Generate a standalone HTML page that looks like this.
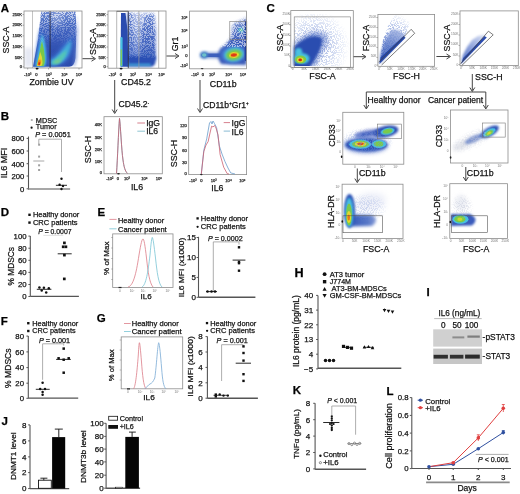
<!DOCTYPE html>
<html><head><meta charset="utf-8"><style>
html,body{margin:0;padding:0;background:#fff;}
svg{display:block;font-family:"Liberation Sans",sans-serif;}
text{stroke:#222;stroke-width:0.25px;paint-order:stroke;}
</style></head><body>
<svg width="520" height="494" viewBox="0 0 520 494">
<defs>
<filter id="b1" filterUnits="userSpaceOnUse" x="0" y="0" width="520" height="494"><feGaussianBlur stdDeviation="1"/></filter>
<filter id="b15" filterUnits="userSpaceOnUse" x="0" y="0" width="520" height="494"><feGaussianBlur stdDeviation="1.5"/></filter>
<filter id="b2" filterUnits="userSpaceOnUse" x="0" y="0" width="520" height="494"><feGaussianBlur stdDeviation="2"/></filter>
<filter id="b3" filterUnits="userSpaceOnUse" x="0" y="0" width="520" height="494"><feGaussianBlur stdDeviation="3"/></filter>
<filter id="b05" filterUnits="userSpaceOnUse" x="0" y="0" width="520" height="494"><feGaussianBlur stdDeviation="0.5"/></filter>
<filter id="speck" filterUnits="userSpaceOnUse" x="0" y="0" width="520" height="494"><feTurbulence type="fractalNoise" baseFrequency="1.1" numOctaves="1" seed="7" result="n"/><feColorMatrix in="n" type="matrix" values="0 0 0 0 1  0 0 0 0 1  0 0 0 0 1  0 0 0 -14 7.3" result="w"/><feComposite in="w" in2="SourceAlpha" operator="in"/><feGaussianBlur stdDeviation="0.35"/></filter>
<filter id="speckb" filterUnits="userSpaceOnUse" x="0" y="0" width="520" height="494"><feTurbulence type="fractalNoise" baseFrequency="1.1" numOctaves="1" seed="11" result="n"/><feColorMatrix in="n" type="matrix" values="0 0 0 0 0.2  0 0 0 0 0.3  0 0 0 0 0.68  0 0 0 -14 7.3" result="w"/><feComposite in="w" in2="SourceAlpha" operator="in"/><feGaussianBlur stdDeviation="0.35"/></filter>
<filter id="speckg" filterUnits="userSpaceOnUse" x="0" y="0" width="520" height="494"><feTurbulence type="fractalNoise" baseFrequency="1.1" numOctaves="1" seed="5" result="n"/><feColorMatrix in="n" type="matrix" values="0 0 0 0 0.55  0 0 0 0 0.58  0 0 0 0 0.7  0 0 0 -14 6.9" result="w"/><feComposite in="w" in2="SourceAlpha" operator="in"/><feGaussianBlur stdDeviation="0.35"/></filter>
<radialGradient id="rg"><stop offset="0" stop-color="#000" stop-opacity="1"/><stop offset="0.6" stop-color="#000" stop-opacity="0.6"/><stop offset="1" stop-color="#000" stop-opacity="0"/></radialGradient>
<filter id="b07" filterUnits="userSpaceOnUse" x="0" y="0" width="520" height="494"><feGaussianBlur stdDeviation="0.7"/></filter>
</defs>
<rect width="520" height="494" fill="#fff"/>
<linearGradient id="gA1" x1="0" y1="12" x2="0" y2="67" gradientUnits="userSpaceOnUse">
<stop offset="0" stop-color="#6a86d0"/><stop offset="0.2" stop-color="#4a6cc4"/><stop offset="0.42" stop-color="#3a5cbc"/><stop offset="0.7" stop-color="#3050b0"/><stop offset="1" stop-color="#2c4cac"/></linearGradient>
<linearGradient id="gA2" x1="0" y1="12" x2="0" y2="67" gradientUnits="userSpaceOnUse">
<stop offset="0" stop-color="#c4cfee"/><stop offset="0.4" stop-color="#8ea4dc"/><stop offset="0.75" stop-color="#4a6cc4"/><stop offset="1" stop-color="#2848aa"/></linearGradient>
<clipPath id="cp1"><rect x="24" y="11" width="58" height="57"/></clipPath>
<g clip-path="url(#cp1)">
<rect x="24.5" y="48" width="8" height="19" fill="#c8cde4" stroke="none" stroke-width="1" opacity="0.5" filter="url(#b2)"/>
<path d="M41,11.5 L75.5,11.5 L76.5,30 L75.5,58 Q74.5,66.8 69,66.8 L33,66.8 L35,56 L38,40 Z" fill="url(#gA1)" opacity="1" filter="url(#b07)"/>
<ellipse cx="57" cy="18" rx="6" ry="9" fill="#a8b8e4" opacity="0.5" filter="url(#b3)"/>
<path d="M39.5,28 Q44,35 46.5,50 Q47.5,62 45,66.5 L34,66.5 Q36,50 39.5,28 Z" fill="#3f70d0" opacity="0.9" filter="url(#b15)"/>
<path d="M76,14 L78,30 L77,58 L75,66 L73,66 L75.5,40 Z" fill="#6a86d0" opacity="0.7" filter="url(#b15)"/>
<path d="M49,66.5 Q62,67 69,58 Q74,48 73,36 Q66,40 61,48 Q55,57 49,59 Z" fill="#3d6fd0" opacity="0.95" filter="url(#b2)"/>
<path d="M51,65 Q62,65 67.5,56 Q71.5,48 71,40 Q66,45 61.5,51 Q56,58 51,60 Z" fill="#44b4dc" opacity="0.9" filter="url(#b15)"/>
<path d="M52,64.5 Q60,64.5 64,58 Q66.5,54 66.5,50 Q62,53 58,57 Q55,60 52,61 Z" fill="#56c8b4" opacity="0.95" filter="url(#b1)"/>
<ellipse cx="57.5" cy="61.5" rx="3.2" ry="1.8" fill="#7ccc88" opacity="0.8" transform="rotate(-20 57.5 61.5)" filter="url(#b1)"/>
<path d="M42.5,34 Q45.5,44 46,56 Q46.3,64 44.5,66.3 L35.5,66.3 Q37.5,56 39.5,46 Q41,38 42.5,34 Z" fill="#46c0e2" opacity="1" filter="url(#b1)"/>
<path d="M42,41 Q44.5,50 44.8,58 Q45,64 43.5,66 L36.5,66 Q38.5,58 40,50 Q41,44 42,41 Z" fill="#78c848" opacity="1" filter="url(#b07)"/>
<path d="M40.2,52 Q42.5,57 42.5,62 Q42.5,65.5 41,66 L37,66 Q38.3,60 39.2,56 Z" fill="#e0d838" opacity="1" filter="url(#b07)"/>
<ellipse cx="39.4" cy="62.5" rx="1.5" ry="3" fill="#ee8a1c" opacity="1" transform="rotate(10 39.4 62.5)" filter="url(#b07)"/>
<ellipse cx="39.2" cy="63.8" rx="0.9" ry="1.8" fill="#d8280e" opacity="1" transform="rotate(10 39.2 63.8)" filter="url(#b05)"/>
<linearGradient id="spA1" x1="0" y1="11" x2="0" y2="45" gradientUnits="userSpaceOnUse"><stop offset="0" stop-color="#000" stop-opacity="0.7"/><stop offset="0.5" stop-color="#000" stop-opacity="0.3"/><stop offset="1" stop-color="#000" stop-opacity="0"/></linearGradient>
<rect x="36" y="11" width="42" height="45" fill="url(#spA1)" filter="url(#speck)"/>
</g>
<line x1="32.5" y1="11" x2="32.5" y2="68" stroke="#aaa" stroke-width="0.7" />
<line x1="50.1" y1="11" x2="50.1" y2="68" stroke="#223" stroke-width="0.8" />
<clipPath id="cp2"><rect x="108" y="11" width="58" height="57.2"/></clipPath>
<g clip-path="url(#cp2)">
<linearGradient id="gA2r" x1="0" y1="13" x2="0" y2="60" gradientUnits="userSpaceOnUse">
<stop offset="0" stop-color="#6a86d0"/><stop offset="0.4" stop-color="#4c6cc4"/><stop offset="1" stop-color="#3458b8"/></linearGradient>
<linearGradient id="gA2m" x1="0" y1="13" x2="0" y2="60" gradientUnits="userSpaceOnUse">
<stop offset="0" stop-color="#b4c2ea"/><stop offset="0.5" stop-color="#8aa0dc"/><stop offset="1" stop-color="#5070c8"/></linearGradient>
<path d="M128,13 L154,13 L155,60 L128,60 Z" fill="url(#gA2m)" opacity="1" filter="url(#b1)"/>
<path d="M127.5,13 L132,13 L134,40 L134,60 L127.5,60 Z" fill="#4a6ac4" opacity="0.85" filter="url(#b15)"/>
<path d="M140,60 L141.5,30 L145,15 L154,14 L155.5,30 L155.5,60 Z" fill="url(#gA2r)" opacity="1" filter="url(#b15)"/>
<path d="M128,56 L155.5,56 L155.5,62 Q155,66.8 150,66.8 L128,66.8 Z" fill="#2c50b4" opacity="1" filter="url(#b1)"/>
<path d="M121,13 L125.5,13 L127.5,30 L128.3,66.8 L120.5,66.8 Z" fill="#2a4cb0" opacity="1" filter="url(#b05)"/>
<path d="M129,64.8 L150,64.8" fill="none" stroke="#46b8e0" stroke-width="2" stroke-linecap="round" opacity="0.9" filter="url(#b1)"/>
<path d="M121.5,38 L121.5,65.5" fill="none" stroke="#46c0e2" stroke-width="2.2" stroke-linecap="round" opacity="1" filter="url(#b07)"/>
<path d="M121.3,50 L121.3,65" fill="none" stroke="#80cc60" stroke-width="1.4" stroke-linecap="round" opacity="1" filter="url(#b05)"/>
<linearGradient id="spA2" x1="0" y1="13" x2="0" y2="58" gradientUnits="userSpaceOnUse"><stop offset="0" stop-color="#000" stop-opacity="0.7"/><stop offset="0.6" stop-color="#000" stop-opacity="0.45"/><stop offset="1" stop-color="#000" stop-opacity="0.1"/></linearGradient>
<rect x="128.5" y="12" width="28" height="46" fill="url(#spA2)" filter="url(#speck)"/>
</g>
<line x1="116.7" y1="11" x2="116.7" y2="68.2" stroke="#999" stroke-width="0.7" />
<line x1="128.3" y1="11" x2="128.3" y2="68.2" stroke="#223" stroke-width="0.8" />
<line x1="138.9" y1="11" x2="138.9" y2="68.2" stroke="#999" stroke-width="0.7" />
<line x1="158.7" y1="11" x2="158.7" y2="68.2" stroke="#999" stroke-width="0.7" />
<line x1="116.7" y1="11.3" x2="128.3" y2="11.3" stroke="#333" stroke-width="0.8" />
<clipPath id="cp3"><rect x="189.6" y="11.1" width="56.900000000000006" height="57.699999999999996"/></clipPath>
<g clip-path="url(#cp3)">
<path d="M203,55.2 L226,55.4" fill="none" stroke="#6c88cc" stroke-width="6" stroke-linecap="round" opacity="0.8" filter="url(#b15)"/>
<path d="M203,55.2 L227,55.4" fill="none" stroke="#3c5ebc" stroke-width="3.6" stroke-linecap="round" opacity="1" filter="url(#b07)"/>
<ellipse cx="204.2" cy="55" rx="3.8" ry="3.4" fill="#4a88c8" opacity="1" filter="url(#b1)"/>
<ellipse cx="204.2" cy="55" rx="2.2" ry="1.8" fill="#6cc0c8" opacity="1" filter="url(#b07)"/>
<linearGradient id="gA3g" x1="0" y1="18" x2="0" y2="45" gradientUnits="userSpaceOnUse">
<stop offset="0" stop-color="#b0bee6"/><stop offset="0.35" stop-color="#5a78c8"/><stop offset="1" stop-color="#3656b6"/></linearGradient>
<path d="M233,24 L246.5,17 L246.5,65 L221,64 Q216,57 220,49 Q227,44 231,38 Z" fill="url(#gA3g)" opacity="1" filter="url(#b15)"/>
<ellipse cx="233.5" cy="54" rx="13" ry="9.5" fill="#4a78d0" opacity="0.9" transform="rotate(-8 233.5 54)" filter="url(#b15)"/>
<ellipse cx="234" cy="54.5" rx="10" ry="7" fill="#46bce0" opacity="1" transform="rotate(-8 234 54.5)" filter="url(#b1)"/>
<ellipse cx="234" cy="54.8" rx="8" ry="5.2" fill="#7cc848" opacity="1" transform="rotate(-8 234 54.8)" filter="url(#b1)"/>
<ellipse cx="234" cy="55" rx="5" ry="3" fill="#e6da2c" opacity="1" transform="rotate(-8 234 55)" filter="url(#b07)"/>
<ellipse cx="233.8" cy="55" rx="3.2" ry="1.7" fill="#e03818" opacity="1" transform="rotate(-8 233.8 55)" filter="url(#b05)"/>
<ellipse cx="241" cy="30" rx="3" ry="2.6" fill="#4eaed0" opacity="1" filter="url(#b1)"/>
<ellipse cx="241" cy="30" rx="1.6" ry="1.3" fill="#70c8a0" opacity="1" filter="url(#b07)"/>
<path d="M245.6,20 L245.6,60" fill="none" stroke="#22409c" stroke-width="2" stroke-linecap="round" opacity="1" filter="url(#b07)"/>
<rect x="216" y="17" width="31" height="30" fill="#000" opacity="0.55" filter="url(#speck)"/>
</g>
<rect x="229.8" y="21.5" width="17" height="18.2" fill="none" stroke="#777" stroke-width="0.6" />
<clipPath id="cp4"><rect x="291.8" y="11.3" width="60.69999999999999" height="54.8"/></clipPath>
<g clip-path="url(#cp4)">
<radialGradient id="spC1" cx="314" cy="46" r="36" gradientUnits="userSpaceOnUse"><stop offset="0" stop-color="#000" stop-opacity="0.9"/><stop offset="0.45" stop-color="#000" stop-opacity="0.45"/><stop offset="1" stop-color="#000" stop-opacity="0"/></radialGradient>
<rect x="294" y="14" width="58" height="52" fill="url(#spC1)" filter="url(#speckb)"/>
<path d="M294,66 L294,44 Q300,37 311,32 Q321,30 327,35 Q329,42 321,54 L315,66 Z" fill="#5674c8" opacity="0.6" filter="url(#b2)"/>
<path d="M294,66 L294,47 Q300,41 309,37 Q318,35 322,39 Q322,47 316,57 L311,66 Z" fill="#2c4eb0" opacity="1" filter="url(#b1)"/>
<ellipse cx="298.6" cy="52.3" rx="3.6" ry="4.2" fill="#48c0e0" opacity="1" filter="url(#b1)"/>
<ellipse cx="301.5" cy="58.5" rx="8" ry="5.6" fill="#48c4dc" opacity="1" filter="url(#b1)"/>
<ellipse cx="300.6" cy="59.5" rx="5.6" ry="4" fill="#80cc48" opacity="1" filter="url(#b07)"/>
<ellipse cx="300.3" cy="59.9" rx="3.2" ry="2.3" fill="#e6da2c" opacity="1" filter="url(#b05)"/>
<ellipse cx="300.2" cy="59.9" rx="1.8" ry="1.3" fill="#d8280e" opacity="1" filter="url(#b05)"/>
<path d="M295,65 L309,65.5" fill="none" stroke="#2a48a8" stroke-width="1.6" stroke-linecap="round" opacity="1" filter="url(#b07)"/>
</g>
<clipPath id="cp5"><rect x="378" y="14.1" width="58.19999999999999" height="50.9"/></clipPath>
<g clip-path="url(#cp5)">
<linearGradient id="gC2" x1="380" y1="64" x2="395" y2="20" gradientUnits="userSpaceOnUse">
<stop offset="0" stop-color="#3254b4"/><stop offset="0.45" stop-color="#5a78c8"/><stop offset="1" stop-color="#c4cfee"/></linearGradient>
<radialGradient id="spC2" cx="386" cy="50" r="38" gradientUnits="userSpaceOnUse"><stop offset="0" stop-color="#000" stop-opacity="1"/><stop offset="0.6" stop-color="#000" stop-opacity="0.6"/><stop offset="1" stop-color="#000" stop-opacity="0"/></radialGradient>
<path d="M380,62 L383,40 L388,26 L395,15 L404,15 L410,22 L406,37 Z" fill="url(#spC2)" filter="url(#speckb)"/>
<path d="M379.5,64 L380.5,54 L383.5,43 L388,34 L393,29 L399,30 L405,36.5 Z" fill="url(#gC2)" opacity="0.85" filter="url(#b1)"/>
<path d="M379.3,64 L380.5,57.5 L403.5,36 L405.5,37.8 Z" fill="#2646a8" opacity="1" filter="url(#b07)"/>
</g>
<path d="M378.6,62.3 L411.2,29.3 L414.7,33.3 L381.6,65" fill="none" stroke="#444" stroke-width="0.7" />
<clipPath id="cp6"><rect x="460.2" y="11.2" width="58.599999999999966" height="53.89999999999999"/></clipPath>
<g clip-path="url(#cp6)">
<linearGradient id="gC3" x1="461" y1="64" x2="478" y2="34" gradientUnits="userSpaceOnUse">
<stop offset="0" stop-color="#3a5cb8"/><stop offset="0.5" stop-color="#7890d4"/><stop offset="1" stop-color="#c8d2ee"/></linearGradient>
<path d="M461,64 L463,55 L467,47 L472,40 L478,36 L486,34.5 Z" fill="url(#gC3)" opacity="0.9" filter="url(#b1)"/>
<path d="M461,64 L463.2,58 L484.5,36 L486.8,37.6 Z" fill="#2c4cae" opacity="1" filter="url(#b07)"/>
</g>
<path d="M460.5,63.8 L488.4,31.2 L493.2,34.8 L462,65.3" fill="none" stroke="#444" stroke-width="0.7" />
<clipPath id="cp7"><rect x="342.8" y="112.5" width="60.19999999999999" height="51.0"/></clipPath>
<g clip-path="url(#cp7)">
<ellipse cx="370" cy="134" rx="14" ry="4.5" fill="#8890d4" opacity="0.75" transform="rotate(-8 370 134)" filter="url(#b15)"/>
<ellipse cx="366" cy="145" rx="22" ry="8" fill="#6a84d0" opacity="0.8" filter="url(#b2)"/>
<ellipse cx="366.3" cy="144.8" rx="21" ry="6.6" fill="#2e54b8" opacity="1" filter="url(#b1)"/>
<ellipse cx="360.2" cy="144.2" rx="11" ry="4.6" fill="#46c0e2" opacity="1" filter="url(#b07)"/>
<ellipse cx="379" cy="144" rx="7.2" ry="4" fill="#46c0e2" opacity="1" filter="url(#b07)"/>
<ellipse cx="360.5" cy="144.1" rx="8.6" ry="3.5" fill="#7acb48" opacity="1" filter="url(#b07)"/>
<ellipse cx="378.7" cy="143.9" rx="4.6" ry="2.7" fill="#7acb48" opacity="1" filter="url(#b05)"/>
<ellipse cx="360.5" cy="144" rx="5.6" ry="2.3" fill="#e6da2c" opacity="1" filter="url(#b05)"/>
<ellipse cx="360.5" cy="143.8" rx="3.3" ry="1.4" fill="#e04818" opacity="1" filter="url(#b05)"/>
<path d="M357,135.5 Q368,133.5 380,131.5" fill="none" stroke="#5a74c8" stroke-width="4.5" stroke-linecap="round" opacity="0.85" filter="url(#b15)"/>
<path d="M362,135 Q370,133.3 380,131.6" fill="none" stroke="#3a5abc" stroke-width="2.4" stroke-linecap="round" opacity="0.9" filter="url(#b1)"/>
<ellipse cx="386" cy="131.5" rx="12.5" ry="5.8" fill="#3052b4" opacity="1" transform="rotate(-12 386 131.5)" filter="url(#b1)"/>
<ellipse cx="387.6" cy="131.3" rx="7" ry="3.4" fill="#46c0e2" opacity="1" transform="rotate(-12 387.6 131.3)" filter="url(#b07)"/>
<ellipse cx="387.6" cy="131.3" rx="4.8" ry="2.3" fill="#7acb48" opacity="1" transform="rotate(-12 387.6 131.3)" filter="url(#b05)"/>
<ellipse cx="367" cy="141" rx="27" ry="14" fill="url(#rg)" opacity="0.55" filter="url(#speckb)"/>
</g>
<clipPath id="cp8"><rect x="450.6" y="110" width="57.099999999999966" height="52.599999999999994"/></clipPath>
<g clip-path="url(#cp8)">
<ellipse cx="462" cy="145" rx="10" ry="3.5" fill="#c8ccd8" opacity="0.6" transform="rotate(-25 462 145)" filter="url(#b2)"/>
<ellipse cx="474" cy="139" rx="10" ry="3.2" fill="#6a84c8" opacity="0.85" transform="rotate(-25 474 139)" filter="url(#b1)"/>
<ellipse cx="489.5" cy="131.8" rx="10.5" ry="4.4" fill="#2e54b8" opacity="1" transform="rotate(-30 489.5 131.8)" filter="url(#b1)"/>
<ellipse cx="489.4" cy="132.4" rx="6.8" ry="3.1" fill="#46c0e2" opacity="1" transform="rotate(-30 489.4 132.4)" filter="url(#b07)"/>
<ellipse cx="489.2" cy="133" rx="4.3" ry="2.1" fill="#7acb48" opacity="1" transform="rotate(-30 489.2 133)" filter="url(#b05)"/>
<ellipse cx="489.2" cy="133.2" rx="2.2" ry="1.1" fill="#d8d830" opacity="1" transform="rotate(-30 489.2 133.2)" filter="url(#b05)"/>
<ellipse cx="472" cy="140" rx="24" ry="10" transform="rotate(-25 472 140)" fill="url(#rg)" opacity="0.6" filter="url(#speckg)"/>
</g>
<clipPath id="cp9"><rect x="342.5" y="184.3" width="60.30000000000001" height="53.5"/></clipPath>
<g clip-path="url(#cp9)">
<linearGradient id="gHt" x1="350" y1="0" x2="380" y2="0" gradientUnits="userSpaceOnUse">
<stop offset="0" stop-color="#3258b8"/><stop offset="0.6" stop-color="#5878c8"/><stop offset="1" stop-color="#a0b0e0"/></linearGradient>
<ellipse cx="370" cy="202" rx="16" ry="9" fill="#dadff2" opacity="0.5" transform="rotate(-10 370 202)" filter="url(#b3)"/>
<path d="M351,214.5 L372,215 Q380,220 372,226 L351,226.5 Z" fill="url(#gHt)" opacity="1" filter="url(#b15)"/>
<ellipse cx="349.5" cy="211" rx="5.6" ry="17" fill="#2e54b8" opacity="1" filter="url(#b1)"/>
<ellipse cx="349.2" cy="212.5" rx="4" ry="14.5" fill="#46c0e2" opacity="1" filter="url(#b1)"/>
<ellipse cx="349" cy="214.5" rx="2.9" ry="11" fill="#7acb48" opacity="1" filter="url(#b07)"/>
<ellipse cx="348.9" cy="217" rx="2.1" ry="6" fill="#e6da2c" opacity="1" filter="url(#b07)"/>
<ellipse cx="348.7" cy="217.5" rx="1.3" ry="3" fill="#e87818" opacity="1" filter="url(#b05)"/>
<ellipse cx="366" cy="208" rx="22" ry="15" fill="url(#rg)" opacity="0.3" filter="url(#speckb)"/>
</g>
<clipPath id="cp10"><rect x="450.1" y="183.8" width="57.5" height="53.599999999999994"/></clipPath>
<g clip-path="url(#cp10)">
<ellipse cx="461" cy="203" rx="6" ry="8" fill="#d8dce8" opacity="0.5" filter="url(#b2)"/>
<path d="M451,214 L470,214 Q480,219 472,225.5 L451,226 Z" fill="#3a5cbc" opacity="1" filter="url(#b1)"/>
<ellipse cx="460.5" cy="219.3" rx="8" ry="4.5" fill="#46c0e2" opacity="1" filter="url(#b07)"/>
<ellipse cx="459.9" cy="219.2" rx="5.5" ry="3.4" fill="#7acb48" opacity="1" filter="url(#b05)"/>
<ellipse cx="459.9" cy="219.2" rx="2.6" ry="1.8" fill="#c8d830" opacity="1" filter="url(#b05)"/>
<ellipse cx="462" cy="207" rx="12" ry="13" fill="url(#rg)" opacity="0.5" filter="url(#speckg)"/>
</g>
<text x="0.8" y="12" text-anchor="start" fill="#000" style="font-size:11.5px;font-weight:bold;" >A</text>
<g id="A1dens"></g>
<rect x="24" y="11" width="58" height="57" fill="none" stroke="#8c8c8c" stroke-width="0.8" />
<text x="22" y="15.799999999999999" text-anchor="end" fill="#333" style="font-size:4.1px;" >250K</text>
<line x1="22.5" y1="14.6" x2="24" y2="14.6" stroke="#777" stroke-width="0.6" />
<text x="22" y="26.4" text-anchor="end" fill="#333" style="font-size:4.1px;" >200K</text>
<line x1="22.5" y1="25.2" x2="24" y2="25.2" stroke="#777" stroke-width="0.6" />
<text x="22" y="37.1" text-anchor="end" fill="#333" style="font-size:4.1px;" >150K</text>
<line x1="22.5" y1="35.9" x2="24" y2="35.9" stroke="#777" stroke-width="0.6" />
<text x="22" y="48.0" text-anchor="end" fill="#333" style="font-size:4.1px;" >100K</text>
<line x1="22.5" y1="46.8" x2="24" y2="46.8" stroke="#777" stroke-width="0.6" />
<text x="22" y="58.7" text-anchor="end" fill="#333" style="font-size:4.1px;" >50K</text>
<line x1="22.5" y1="57.5" x2="24" y2="57.5" stroke="#777" stroke-width="0.6" />
<text x="22" y="68.0" text-anchor="end" fill="#333" style="font-size:4.1px;" >0</text>
<line x1="22.5" y1="66.8" x2="24" y2="66.8" stroke="#777" stroke-width="0.6" />
<text x="27.7" y="75.5" text-anchor="middle" fill="#333" style="font-size:4.1px;" >-10³</text>
<line x1="27.7" y1="68" x2="27.7" y2="69.5" stroke="#777" stroke-width="0.6" />
<text x="36.4" y="75.5" text-anchor="middle" fill="#333" style="font-size:4.1px;" >0</text>
<line x1="36.4" y1="68" x2="36.4" y2="69.5" stroke="#777" stroke-width="0.6" />
<text x="48.6" y="75.5" text-anchor="middle" fill="#333" style="font-size:4.1px;" >10³</text>
<line x1="48.6" y1="68" x2="48.6" y2="69.5" stroke="#777" stroke-width="0.6" />
<text x="64.4" y="75.5" text-anchor="middle" fill="#333" style="font-size:4.1px;" >10⁴</text>
<line x1="64.4" y1="68" x2="64.4" y2="69.5" stroke="#777" stroke-width="0.6" />
<text x="79" y="75.5" text-anchor="middle" fill="#333" style="font-size:4.1px;" >10⁵</text>
<line x1="79" y1="68" x2="79" y2="69.5" stroke="#777" stroke-width="0.6" />
<text transform="translate(9.3,40) rotate(-90)" text-anchor="middle" fill="#111" style="font-size:8.8px;" >SSC-A</text>
<text x="51.5" y="85.2" text-anchor="middle" fill="#111" style="font-size:8.8px;" >Zombie UV</text>
<line x1="82.5" y1="58.7" x2="94.5" y2="58.7" stroke="#444" stroke-width="1" />
<path d="M91.5,56.2 L95.5,58.7 L91.5,61.2" fill="none" stroke="#444" stroke-width="1" />
<rect x="108" y="11" width="58" height="57.2" fill="none" stroke="#8c8c8c" stroke-width="0.8" />
<text x="105.8" y="15.799999999999999" text-anchor="end" fill="#333" style="font-size:4.1px;" >250K</text>
<line x1="106.5" y1="14.6" x2="108" y2="14.6" stroke="#777" stroke-width="0.6" />
<text x="105.8" y="26.2" text-anchor="end" fill="#333" style="font-size:4.1px;" >200K</text>
<line x1="106.5" y1="25.0" x2="108" y2="25.0" stroke="#777" stroke-width="0.6" />
<text x="105.8" y="36.6" text-anchor="end" fill="#333" style="font-size:4.1px;" >150K</text>
<line x1="106.5" y1="35.4" x2="108" y2="35.4" stroke="#777" stroke-width="0.6" />
<text x="105.8" y="48.2" text-anchor="end" fill="#333" style="font-size:4.1px;" >100K</text>
<line x1="106.5" y1="47.0" x2="108" y2="47.0" stroke="#777" stroke-width="0.6" />
<text x="105.8" y="58.800000000000004" text-anchor="end" fill="#333" style="font-size:4.1px;" >50K</text>
<line x1="106.5" y1="57.6" x2="108" y2="57.6" stroke="#777" stroke-width="0.6" />
<text x="105.8" y="67.8" text-anchor="end" fill="#333" style="font-size:4.1px;" >0</text>
<line x1="106.5" y1="66.6" x2="108" y2="66.6" stroke="#777" stroke-width="0.6" />
<text x="112.5" y="75.5" text-anchor="middle" fill="#333" style="font-size:4.1px;" >-10³</text>
<text x="121" y="75.5" text-anchor="middle" fill="#333" style="font-size:4.1px;" >0</text>
<text x="133" y="75.5" text-anchor="middle" fill="#333" style="font-size:4.1px;" >10³</text>
<text x="148.5" y="75.5" text-anchor="middle" fill="#333" style="font-size:4.1px;" >10⁴</text>
<text x="161.5" y="75.5" text-anchor="middle" fill="#333" style="font-size:4.1px;" >10⁵</text>
<text transform="translate(95.6,41.5) rotate(-90)" text-anchor="middle" fill="#111" style="font-size:8.8px;" >SSC-A</text>
<text x="136" y="85.2" text-anchor="middle" fill="#111" style="font-size:8.8px;" >CD45.2</text>
<line x1="166.5" y1="56" x2="178" y2="56" stroke="#444" stroke-width="1" />
<path d="M175,53.5 L179,56 L175,58.5" fill="none" stroke="#444" stroke-width="1" />
<rect x="189.6" y="11.1" width="56.900000000000006" height="57.699999999999996" fill="none" stroke="#8c8c8c" stroke-width="0.8" />
<text x="187.5" y="19.2" text-anchor="end" fill="#333" style="font-size:4.1px;" >10⁵</text>
<text x="187.5" y="32.2" text-anchor="end" fill="#333" style="font-size:4.1px;" >10⁴</text>
<text x="187.5" y="47.7" text-anchor="end" fill="#333" style="font-size:4.1px;" >10³</text>
<text x="187.5" y="57.2" text-anchor="end" fill="#333" style="font-size:4.1px;" >0</text>
<text x="187.5" y="66.7" text-anchor="end" fill="#333" style="font-size:4.1px;" >-10²</text>
<text x="195" y="75.5" text-anchor="middle" fill="#333" style="font-size:4.1px;" >-10²</text>
<text x="203" y="75.5" text-anchor="middle" fill="#333" style="font-size:4.1px;" >0</text>
<text x="212" y="75.5" text-anchor="middle" fill="#333" style="font-size:4.1px;" >10³</text>
<text x="228.5" y="75.5" text-anchor="middle" fill="#333" style="font-size:4.1px;" >10⁴</text>
<text x="243" y="75.5" text-anchor="middle" fill="#333" style="font-size:4.1px;" >10⁵</text>
<text transform="translate(178.3,44) rotate(-90)" text-anchor="middle" fill="#111" style="font-size:8.8px;" >Gr1</text>
<text x="223.2" y="87" text-anchor="middle" fill="#111" style="font-size:8.8px;" >CD11b</text>
<line x1="114.7" y1="80" x2="114.7" y2="112.5" stroke="#444" stroke-width="1" />
<path d="M112.2,109.5 L114.7,113.5 L117.2,109.5" fill="none" stroke="#444" stroke-width="1" />
<line x1="200" y1="80" x2="200" y2="111.5" stroke="#444" stroke-width="1" />
<path d="M197.5,108.5 L200,112.5 L202.5,108.5" fill="none" stroke="#444" stroke-width="1" />
<text x="118.5" y="107.3" text-anchor="start" fill="#111" style="font-size:8.6px;" >CD45.2<tspan dy="-3" font-size="4">-</tspan></text>
<text x="203" y="107.8" text-anchor="start" fill="#111" style="font-size:8.6px;" >CD11b<tspan dy="-3" font-size="4.5">+</tspan><tspan dy="3">Gr1</tspan><tspan dy="-3" font-size="4.5">+</tspan></text>
<text x="0.8" y="119.6" text-anchor="start" fill="#000" style="font-size:11.5px;font-weight:bold;" >B</text>
<circle cx="31.8" cy="120" r="1.1" fill="#aaa" stroke="none" stroke-width="1"/>
<text x="35.8" y="122.5" text-anchor="start" fill="#111" style="font-size:7.3px;" >MDSC</text>
<circle cx="31.6" cy="127.7" r="1.1" fill="#111" stroke="none" stroke-width="1"/>
<text x="35.8" y="129.4" text-anchor="start" fill="#111" style="font-size:7.3px;" >Tumor</text>
<text x="35.2" y="137.4" text-anchor="start" fill="#111" style="font-size:7.3px;" ><tspan font-style="italic">P</tspan> = 0.0051</text>
<line x1="28.5" y1="136.5" x2="28.5" y2="189.5" stroke="#555" stroke-width="1.1" />
<line x1="28" y1="189" x2="70.1" y2="189" stroke="#8a8a8a" stroke-width="1.6" />
<text x="24.3" y="141.20000000000002" text-anchor="end" fill="#111" style="font-size:7.7px;" >800</text>
<line x1="26.6" y1="138.4" x2="28.5" y2="138.4" stroke="#555" stroke-width="1" />
<text x="24.3" y="153.8" text-anchor="end" fill="#111" style="font-size:7.7px;" >600</text>
<line x1="26.6" y1="151" x2="28.5" y2="151" stroke="#555" stroke-width="1" />
<text x="24.3" y="166.5" text-anchor="end" fill="#111" style="font-size:7.7px;" >400</text>
<line x1="26.6" y1="163.7" x2="28.5" y2="163.7" stroke="#555" stroke-width="1" />
<text x="24.3" y="178.8" text-anchor="end" fill="#111" style="font-size:7.7px;" >200</text>
<line x1="26.6" y1="176" x2="28.5" y2="176" stroke="#555" stroke-width="1" />
<text x="24.3" y="191.60000000000002" text-anchor="end" fill="#111" style="font-size:7.7px;" >0</text>
<line x1="26.6" y1="188.8" x2="28.5" y2="188.8" stroke="#555" stroke-width="1" />
<text transform="translate(7.3,163) rotate(-90)" text-anchor="middle" fill="#111" style="font-size:9px;" >IL6 MFI</text>
<path d="M38.8,144 L38.8,139.2 L61.5,139.2 L61.5,172" fill="none" stroke="#999" stroke-width="0.8" />
<rect x="38.1" y="143.7" width="2" height="2" fill="#a0a0a0" stroke="none" stroke-width="1" />
<rect x="38.1" y="155.6" width="2" height="2" fill="#a0a0a0" stroke="none" stroke-width="1" />
<rect x="38.1" y="164.3" width="2" height="2" fill="#a0a0a0" stroke="none" stroke-width="1" />
<rect x="38.1" y="169" width="2" height="2" fill="#a0a0a0" stroke="none" stroke-width="1" />
<line x1="33.3" y1="161" x2="44.3" y2="161" stroke="#a8a8a8" stroke-width="1" />
<circle cx="61.5" cy="178.7" r="1.2" fill="#111" stroke="none" stroke-width="1"/>
<circle cx="59.6" cy="184.7" r="1.2" fill="#111" stroke="none" stroke-width="1"/>
<circle cx="63" cy="186" r="1.2" fill="#111" stroke="none" stroke-width="1"/>
<circle cx="61.5" cy="189" r="1.2" fill="#111" stroke="none" stroke-width="1"/>
<line x1="55.9" y1="185.3" x2="67" y2="185.3" stroke="#111" stroke-width="0.9" />
<rect x="104" y="116.7" width="58.30000000000001" height="57.10000000000001" fill="none" stroke="#8c8c8c" stroke-width="0.8" />
<text x="102" y="126.2" text-anchor="end" fill="#333" style="font-size:4.1px;" >40K</text>
<text x="102" y="138.7" text-anchor="end" fill="#333" style="font-size:4.1px;" >30K</text>
<text x="102" y="151.0" text-anchor="end" fill="#333" style="font-size:4.1px;" >20K</text>
<text x="102" y="163.2" text-anchor="end" fill="#333" style="font-size:4.1px;" >10K</text>
<text x="102" y="173.7" text-anchor="end" fill="#333" style="font-size:4.1px;" >0</text>
<text x="109.8" y="180" text-anchor="middle" fill="#333" style="font-size:4.1px;" >-10²</text>
<text x="118" y="180" text-anchor="middle" fill="#333" style="font-size:4.1px;" >0</text>
<text x="127" y="180" text-anchor="middle" fill="#333" style="font-size:4.1px;" >10³</text>
<text x="144.4" y="180" text-anchor="middle" fill="#333" style="font-size:4.1px;" >10⁴</text>
<text x="158.8" y="180" text-anchor="middle" fill="#333" style="font-size:4.1px;" >10⁵</text>
<text transform="translate(90.6,149.5) rotate(-90)" text-anchor="middle" fill="#111" style="font-size:8.8px;" >SSC-H</text>
<text x="137" y="190.2" text-anchor="middle" fill="#111" style="font-size:8.8px;" >IL6</text>
<path d="M116.5,173.5 C117.5,160 118.5,130 119.5,118.4 C120.5,125 121.5,150 123,160 C124,167 125,171 127.5,173.5" fill="none" stroke="#74b8c8" stroke-width="0.9" />
<path d="M116.5,173.5 C117.5,160 118.5,130 119.5,118.4 C120.5,125 121.5,150 123,160 C124,167 125,171 127.5,173.5" fill="none" stroke="#cc6070" stroke-width="0.8" />
<line x1="137.3" y1="123" x2="145" y2="123" stroke="#cc6070" stroke-width="0.8" />
<text x="146.2" y="125.6" text-anchor="start" fill="#111" style="font-size:8.6px;" >IgG</text>
<line x1="137.3" y1="131.2" x2="145" y2="131.2" stroke="#74b8c8" stroke-width="0.8" />
<text x="146.2" y="134.2" text-anchor="start" fill="#111" style="font-size:8.6px;" >IL6</text>
<rect x="188.7" y="116.4" width="57.900000000000006" height="58.19999999999999" fill="none" stroke="#8c8c8c" stroke-width="0.8" />
<text x="186.8" y="127.10000000000001" text-anchor="end" fill="#333" style="font-size:4.1px;" >120</text>
<text x="186.8" y="139.39999999999998" text-anchor="end" fill="#333" style="font-size:4.1px;" >90</text>
<text x="186.8" y="151.5" text-anchor="end" fill="#333" style="font-size:4.1px;" >60</text>
<text x="186.8" y="163.89999999999998" text-anchor="end" fill="#333" style="font-size:4.1px;" >30</text>
<text x="186.8" y="175.29999999999998" text-anchor="end" fill="#333" style="font-size:4.1px;" >0</text>
<text x="193" y="182" text-anchor="middle" fill="#333" style="font-size:4.1px;" >-10³</text>
<text x="201.5" y="182" text-anchor="middle" fill="#333" style="font-size:4.1px;" >0</text>
<text x="213.6" y="182" text-anchor="middle" fill="#333" style="font-size:4.1px;" >10³</text>
<text x="228.5" y="182" text-anchor="middle" fill="#333" style="font-size:4.1px;" >10⁴</text>
<text x="242.3" y="182" text-anchor="middle" fill="#333" style="font-size:4.1px;" >10⁵</text>
<text transform="translate(176.6,153.5) rotate(-90)" text-anchor="middle" fill="#111" style="font-size:8.8px;" >SSC-H</text>
<text x="217.4" y="190.8" text-anchor="middle" fill="#111" style="font-size:8.8px;" >IL6</text>
<path d="M201.3,174 L203.8,150.2 L206.7,138.9 L209.5,123 L210.9,121.5 L212,124 L213,121 L214.5,123.5 L216.6,127.6 L219.4,146 L222,154 L225,161.6 L228,168 L230.7,172.9 L235,174" fill="none" stroke="#6a9ccc" stroke-width="0.8" />
<path d="M201.3,174 L203.8,151.7 L206,145 L208.1,141.7 L210,133 L211.6,126.2 L213,127 L214.5,125.5 L216,128 L218,134.7 L220.1,154.5 L223.7,167.2 L227.2,173.6 L229,174" fill="none" stroke="#cc6070" stroke-width="0.8" />
<line x1="223.7" y1="122.6" x2="230" y2="122.6" stroke="#cc6070" stroke-width="0.8" />
<text x="231.6" y="126" text-anchor="start" fill="#111" style="font-size:8.6px;" >IgG</text>
<line x1="223.7" y1="131.1" x2="230" y2="131.1" stroke="#6aa8c8" stroke-width="0.8" />
<text x="231.6" y="134.6" text-anchor="start" fill="#111" style="font-size:8.6px;" >IL6</text>
<text x="266.4" y="11.6" text-anchor="start" fill="#000" style="font-size:11.5px;font-weight:bold;" >C</text>
<rect x="290.8" y="10.6" width="62.5" height="56.699999999999996" fill="none" stroke="#8c8c8c" stroke-width="0.8" />
<rect x="294.2" y="16.9" width="56.2" height="50.4" fill="none" stroke="#777" stroke-width="0.6" />
<line x1="289.3" y1="14" x2="290.8" y2="14" stroke="#777" stroke-width="0.5" />
<line x1="289.3" y1="24.7" x2="290.8" y2="24.7" stroke="#777" stroke-width="0.5" />
<line x1="289.3" y1="35.4" x2="290.8" y2="35.4" stroke="#777" stroke-width="0.5" />
<line x1="289.3" y1="46.1" x2="290.8" y2="46.1" stroke="#777" stroke-width="0.5" />
<line x1="289.3" y1="56.8" x2="290.8" y2="56.8" stroke="#777" stroke-width="0.5" />
<line x1="289.3" y1="66.5" x2="290.8" y2="66.5" stroke="#777" stroke-width="0.5" />
<line x1="292" y1="67.3" x2="292" y2="68.8" stroke="#777" stroke-width="0.5" />
<line x1="303" y1="67.3" x2="303" y2="68.8" stroke="#777" stroke-width="0.5" />
<line x1="314.5" y1="67.3" x2="314.5" y2="68.8" stroke="#777" stroke-width="0.5" />
<line x1="326" y1="67.3" x2="326" y2="68.8" stroke="#777" stroke-width="0.5" />
<line x1="337.5" y1="67.3" x2="337.5" y2="68.8" stroke="#777" stroke-width="0.5" />
<line x1="349" y1="67.3" x2="349" y2="68.8" stroke="#777" stroke-width="0.5" />
<text transform="translate(283.3,38) rotate(-90)" text-anchor="middle" fill="#111" style="font-size:8.8px;" >SSC-A</text>
<text x="322.5" y="79.2" text-anchor="middle" fill="#111" style="font-size:8.8px;" >FSC-A</text>
<line x1="353.5" y1="56.7" x2="365" y2="56.7" stroke="#444" stroke-width="1" />
<path d="M362,54.2 L366,56.7 L362,59.2" fill="none" stroke="#444" stroke-width="1" />
<rect x="377.9" y="14.4" width="56.700000000000045" height="51.9" fill="none" stroke="#8c8c8c" stroke-width="0.8" />
<line x1="376.4" y1="17.5" x2="377.9" y2="17.5" stroke="#777" stroke-width="0.5" />
<line x1="376.4" y1="27.5" x2="377.9" y2="27.5" stroke="#777" stroke-width="0.5" />
<line x1="376.4" y1="37.5" x2="377.9" y2="37.5" stroke="#777" stroke-width="0.5" />
<line x1="376.4" y1="47.5" x2="377.9" y2="47.5" stroke="#777" stroke-width="0.5" />
<line x1="376.4" y1="57.5" x2="377.9" y2="57.5" stroke="#777" stroke-width="0.5" />
<line x1="376.4" y1="65" x2="377.9" y2="65" stroke="#777" stroke-width="0.5" />
<line x1="380" y1="66.3" x2="380" y2="67.8" stroke="#777" stroke-width="0.5" />
<line x1="390" y1="66.3" x2="390" y2="67.8" stroke="#777" stroke-width="0.5" />
<line x1="401" y1="66.3" x2="401" y2="67.8" stroke="#777" stroke-width="0.5" />
<line x1="412" y1="66.3" x2="412" y2="67.8" stroke="#777" stroke-width="0.5" />
<line x1="423" y1="66.3" x2="423" y2="67.8" stroke="#777" stroke-width="0.5" />
<line x1="433" y1="66.3" x2="433" y2="67.8" stroke="#777" stroke-width="0.5" />
<text transform="translate(369.3,38) rotate(-90)" text-anchor="middle" fill="#111" style="font-size:8.8px;" >FSC-A</text>
<text x="406.5" y="79.2" text-anchor="middle" fill="#111" style="font-size:8.8px;" >FSC-H</text>
<line x1="436.4" y1="56.5" x2="449.5" y2="56.5" stroke="#444" stroke-width="1" />
<path d="M446.5,54.0 L450.5,56.5 L446.5,59.0" fill="none" stroke="#444" stroke-width="1" />
<rect x="460" y="10.9" width="58.299999999999955" height="54.699999999999996" fill="none" stroke="#8c8c8c" stroke-width="0.8" />
<line x1="458.5" y1="14" x2="460" y2="14" stroke="#777" stroke-width="0.5" />
<line x1="458.5" y1="24.5" x2="460" y2="24.5" stroke="#777" stroke-width="0.5" />
<line x1="458.5" y1="35" x2="460" y2="35" stroke="#777" stroke-width="0.5" />
<line x1="458.5" y1="45.5" x2="460" y2="45.5" stroke="#777" stroke-width="0.5" />
<line x1="458.5" y1="56" x2="460" y2="56" stroke="#777" stroke-width="0.5" />
<line x1="458.5" y1="64.5" x2="460" y2="64.5" stroke="#777" stroke-width="0.5" />
<line x1="462" y1="65.6" x2="462" y2="67.1" stroke="#777" stroke-width="0.5" />
<line x1="472" y1="65.6" x2="472" y2="67.1" stroke="#777" stroke-width="0.5" />
<line x1="483" y1="65.6" x2="483" y2="67.1" stroke="#777" stroke-width="0.5" />
<line x1="494" y1="65.6" x2="494" y2="67.1" stroke="#777" stroke-width="0.5" />
<line x1="505" y1="65.6" x2="505" y2="67.1" stroke="#777" stroke-width="0.5" />
<line x1="516" y1="65.6" x2="516" y2="67.1" stroke="#777" stroke-width="0.5" />
<text transform="translate(450.3,38) rotate(-90)" text-anchor="middle" fill="#111" style="font-size:8.8px;" >SSC-A</text>
<text x="488.8" y="80" text-anchor="middle" fill="#111" style="font-size:8.8px;" >SSC-H</text>
<line x1="472.3" y1="74" x2="472.3" y2="90.5" stroke="#444" stroke-width="1" />
<path d="M469.8,87.5 L472.3,91.5 L474.8,87.5" fill="none" stroke="#444" stroke-width="1" />
<line x1="366.3" y1="92" x2="485.8" y2="92" stroke="#444" stroke-width="1" />
<line x1="366.3" y1="92" x2="366.3" y2="108" stroke="#444" stroke-width="1" />
<path d="M363.8,105 L366.3,109 L368.8,105" fill="none" stroke="#444" stroke-width="1" />
<line x1="485.8" y1="92" x2="485.8" y2="108" stroke="#444" stroke-width="1" />
<path d="M483.3,105 L485.8,109 L488.3,105" fill="none" stroke="#444" stroke-width="1" />
<text x="367.6" y="103.2" text-anchor="start" fill="#111" style="font-size:8.5px;" >Healthy donor</text>
<text x="427.9" y="103.2" text-anchor="start" fill="#111" style="font-size:8.5px;" >Cancer patient</text>
<rect x="342.8" y="112.3" width="61.0" height="51.89999999999999" fill="none" stroke="#8c8c8c" stroke-width="0.8" />
<rect x="377.4" y="124.1" width="24" height="14.6" fill="none" stroke="#777" stroke-width="0.6" />
<text transform="translate(334.9,135.5) rotate(-90)" text-anchor="middle" fill="#111" style="font-size:8.8px;" >CD33</text>
<text x="372.3" y="176.2" text-anchor="middle" fill="#111" style="font-size:8.8px;" >CD11b</text>
<line x1="357.3" y1="168.5" x2="357.3" y2="181.6" stroke="#444" stroke-width="1" />
<path d="M354.8,178.6 L357.3,182.6 L359.8,178.6" fill="none" stroke="#444" stroke-width="1" />
<rect x="450.4" y="110" width="57.60000000000002" height="53" fill="none" stroke="#8c8c8c" stroke-width="0.8" />
<rect x="482.5" y="123" width="22.7" height="14.1" fill="none" stroke="#777" stroke-width="0.6" />
<text transform="translate(442,136) rotate(-90)" text-anchor="middle" fill="#111" style="font-size:8.8px;" >CD33</text>
<text x="480.2" y="176.2" text-anchor="middle" fill="#111" style="font-size:8.8px;" >CD11b</text>
<line x1="465.8" y1="167" x2="465.8" y2="180" stroke="#444" stroke-width="1" />
<path d="M463.3,177 L465.8,181 L468.3,177" fill="none" stroke="#444" stroke-width="1" />
<rect x="342.1" y="184.2" width="60.89999999999998" height="54.30000000000001" fill="none" stroke="#8c8c8c" stroke-width="0.8" />
<rect x="343" y="215.8" width="39.5" height="16.9" fill="none" stroke="#555" stroke-width="0.6" />
<text transform="translate(334.4,211.5) rotate(-90)" text-anchor="middle" fill="#111" style="font-size:8.8px;" >HLA-DR</text>
<text x="376.2" y="252.2" text-anchor="middle" fill="#111" style="font-size:8.8px;" >FSC-A</text>
<rect x="449.8" y="183.7" width="57.69999999999999" height="54.80000000000001" fill="none" stroke="#8c8c8c" stroke-width="0.8" />
<rect x="451.3" y="215.8" width="36" height="16.5" fill="none" stroke="#555" stroke-width="0.6" />
<text transform="translate(440.2,211.5) rotate(-90)" text-anchor="middle" fill="#111" style="font-size:8.8px;" >HLA-DR</text>
<text x="476.2" y="252.2" text-anchor="middle" fill="#111" style="font-size:8.8px;" >FSC-A</text>
<text x="0.8" y="216.4" text-anchor="start" fill="#000" style="font-size:11.5px;font-weight:bold;" >D</text>
<rect x="28.3" y="213.60000000000002" width="2.4" height="2.4" fill="#111" stroke="none" stroke-width="1" />
<text x="32.9" y="217.2" text-anchor="start" fill="#111" style="font-size:7.4px;" textLength="46.4" lengthAdjust="spacingAndGlyphs">Healthy donor</text>
<rect x="28.3" y="221.4" width="2.4" height="2.4" fill="#111" stroke="none" stroke-width="1" />
<text x="32.9" y="225.0" text-anchor="start" fill="#111" style="font-size:7.4px;" textLength="44.7" lengthAdjust="spacingAndGlyphs">CRC patients</text>
<text x="38.2" y="233.7" text-anchor="start" fill="#111" style="font-size:7.2px;" textLength="33.3" lengthAdjust="spacingAndGlyphs"><tspan font-style="italic">P</tspan> = 0.0007</text>
<line x1="43.3" y1="235.4" x2="63.3" y2="235.4" stroke="#d4d4d4" stroke-width="0.7" />
<line x1="30.3" y1="236.1" x2="30.3" y2="296.5" stroke="#555" stroke-width="1.1" />
<line x1="30.3" y1="296.3" x2="78.9" y2="296.3" stroke="#555" stroke-width="1.3" />
<text x="26.6" y="238.9" text-anchor="end" fill="#111" style="font-size:7.8px;" >100</text>
<line x1="28.4" y1="236.1" x2="30.3" y2="236.1" stroke="#555" stroke-width="1" />
<text x="26.6" y="251.0" text-anchor="end" fill="#111" style="font-size:7.8px;" >80</text>
<line x1="28.4" y1="248.2" x2="30.3" y2="248.2" stroke="#555" stroke-width="1" />
<text x="26.6" y="263.1" text-anchor="end" fill="#111" style="font-size:7.8px;" >60</text>
<line x1="28.4" y1="260.3" x2="30.3" y2="260.3" stroke="#555" stroke-width="1" />
<text x="26.6" y="275.2" text-anchor="end" fill="#111" style="font-size:7.8px;" >40</text>
<line x1="28.4" y1="272.4" x2="30.3" y2="272.4" stroke="#555" stroke-width="1" />
<text x="26.6" y="287.3" text-anchor="end" fill="#111" style="font-size:7.8px;" >20</text>
<line x1="28.4" y1="284.5" x2="30.3" y2="284.5" stroke="#555" stroke-width="1" />
<text x="26.6" y="299.3" text-anchor="end" fill="#111" style="font-size:7.8px;" >0</text>
<line x1="28.4" y1="296.5" x2="30.3" y2="296.5" stroke="#555" stroke-width="1" />
<text transform="translate(13.8,266.3) rotate(-90)" text-anchor="middle" fill="#111" style="font-size:8.4px;" textLength="38.4" lengthAdjust="spacingAndGlyphs">% MDSCs</text>
<circle cx="39.4" cy="287.5" r="1.25" fill="#111" stroke="none" stroke-width="1"/>
<circle cx="43.9" cy="287.8" r="1.25" fill="#111" stroke="none" stroke-width="1"/>
<circle cx="48.8" cy="288.2" r="1.25" fill="#111" stroke="none" stroke-width="1"/>
<circle cx="41.7" cy="290.6" r="1.25" fill="#111" stroke="none" stroke-width="1"/>
<circle cx="46.2" cy="292.4" r="1.25" fill="#111" stroke="none" stroke-width="1"/>
<line x1="36.8" y1="289.3" x2="51.4" y2="289.3" stroke="#111" stroke-width="0.9" />
<rect x="63.050000000000004" y="241.55" width="2.7" height="2.7" fill="#111" stroke="none" stroke-width="1" />
<rect x="61.85" y="245.45000000000002" width="2.7" height="2.7" fill="#111" stroke="none" stroke-width="1" />
<rect x="64.55000000000001" y="245.45000000000002" width="2.7" height="2.7" fill="#111" stroke="none" stroke-width="1" />
<rect x="63.050000000000004" y="253.75" width="2.7" height="2.7" fill="#111" stroke="none" stroke-width="1" />
<rect x="62.949999999999996" y="277.54999999999995" width="2.7" height="2.7" fill="#111" stroke="none" stroke-width="1" />
<line x1="57.7" y1="253.8" x2="71.7" y2="253.8" stroke="#111" stroke-width="0.9" />
<text x="97.6" y="216.0" text-anchor="start" fill="#000" style="font-size:11.5px;font-weight:bold;" >E</text>
<line x1="109.4" y1="219.4" x2="116.6" y2="219.4" stroke="#dc7c88" stroke-width="0.8" />
<text x="118" y="223.0" text-anchor="start" fill="#111" style="font-size:7.5px;" textLength="46.2" lengthAdjust="spacingAndGlyphs">Healthy donor</text>
<line x1="109.4" y1="228.8" x2="116.6" y2="228.8" stroke="#78c4d4" stroke-width="0.8" />
<text x="118" y="232.4" text-anchor="start" fill="#111" style="font-size:7.5px;" textLength="48.7" lengthAdjust="spacingAndGlyphs">Cancer patient</text>
<rect x="112.7" y="233.9" width="60.3" height="53.49999999999997" fill="none" stroke="#8c8c8c" stroke-width="0.8" />
<line x1="111.2" y1="237.5" x2="112.7" y2="237.5" stroke="#777" stroke-width="0.5" />
<line x1="111.2" y1="248" x2="112.7" y2="248" stroke="#777" stroke-width="0.5" />
<line x1="111.2" y1="258.5" x2="112.7" y2="258.5" stroke="#777" stroke-width="0.5" />
<line x1="111.2" y1="269" x2="112.7" y2="269" stroke="#777" stroke-width="0.5" />
<line x1="111.2" y1="279.5" x2="112.7" y2="279.5" stroke="#777" stroke-width="0.5" />
<text transform="translate(109.2,258.2) rotate(-90)" text-anchor="middle" fill="#111" style="font-size:7.6px;" textLength="33.5" lengthAdjust="spacingAndGlyphs">% of Max</text>
<text x="140.6" y="299.2" text-anchor="start" fill="#111" style="font-size:7.8px;" textLength="11.1" lengthAdjust="spacingAndGlyphs">IL6</text>
<path d="M128,287 C133,286 136,275 139,255 C141,243 142,239 143,238.9 C144,239 145,245 146.5,258 C148,272 149.5,283 153,287" fill="none" stroke="#dc7c88" stroke-width="0.8" />
<path d="M142,287 C146,285 148,272 150,255 C151,243 151.8,237.5 152.3,237.4 C153,238 154,245 155.5,258 C157,272 158.5,284 162,287" fill="none" stroke="#78c4d4" stroke-width="0.8" />
<rect x="196.45" y="217.25" width="2.3" height="2.3" fill="#111" stroke="none" stroke-width="1" />
<text x="200.8" y="220.9" text-anchor="start" fill="#111" style="font-size:7.4px;" textLength="47.3" lengthAdjust="spacingAndGlyphs">Healthy donor</text>
<circle cx="197.6" cy="226.8" r="1.15" fill="#111" stroke="none" stroke-width="1"/>
<text x="200.8" y="229.1" text-anchor="start" fill="#111" style="font-size:7.4px;" textLength="45" lengthAdjust="spacingAndGlyphs">CRC patients</text>
<text x="208" y="241.0" text-anchor="start" fill="#111" style="font-size:7.2px;" textLength="34.7" lengthAdjust="spacingAndGlyphs"><tspan font-style="italic">P</tspan> = 0.0002</text>
<line x1="198.5" y1="236.8" x2="198.5" y2="297.5" stroke="#555" stroke-width="1.1" />
<line x1="198.5" y1="297.3" x2="255.4" y2="297.3" stroke="#555" stroke-width="1.5" />
<text x="195.9" y="240.3" text-anchor="end" fill="#111" style="font-size:8px;" >15</text>
<line x1="196.6" y1="237.5" x2="198.5" y2="237.5" stroke="#555" stroke-width="1" />
<text x="195.9" y="260.3" text-anchor="end" fill="#111" style="font-size:8px;" >10</text>
<line x1="196.6" y1="257.5" x2="198.5" y2="257.5" stroke="#555" stroke-width="1" />
<text x="195.9" y="280.2" text-anchor="end" fill="#111" style="font-size:8px;" >5</text>
<line x1="196.6" y1="277.4" x2="198.5" y2="277.4" stroke="#555" stroke-width="1" />
<text x="195.9" y="300.1" text-anchor="end" fill="#111" style="font-size:8px;" >0</text>
<line x1="196.6" y1="297.3" x2="198.5" y2="297.3" stroke="#555" stroke-width="1" />
<text transform="translate(183.6,267.5) rotate(-90)" text-anchor="middle" fill="#111" style="font-size:7.8px;" textLength="59.6" lengthAdjust="spacingAndGlyphs">IL6 MFI (x1000)</text>
<path d="M213.3,292 L213.3,241.9 L239,241.9 L239,244.6" fill="none" stroke="#999" stroke-width="0.8" />
<rect x="237.8" y="246.10000000000002" width="2.4" height="2.4" fill="#111" stroke="none" stroke-width="1" />
<rect x="237.8" y="260.7" width="2.4" height="2.4" fill="#111" stroke="none" stroke-width="1" />
<rect x="237.8" y="262.0" width="2.4" height="2.4" fill="#111" stroke="none" stroke-width="1" />
<rect x="237.8" y="269.5" width="2.4" height="2.4" fill="#111" stroke="none" stroke-width="1" />
<line x1="232.6" y1="260.1" x2="245.4" y2="260.1" stroke="#111" stroke-width="0.9" />
<circle cx="207.5" cy="291.6" r="1.25" fill="#111" stroke="none" stroke-width="1"/>
<circle cx="211.5" cy="291.6" r="1.25" fill="#111" stroke="none" stroke-width="1"/>
<circle cx="215" cy="291.6" r="1.25" fill="#111" stroke="none" stroke-width="1"/>
<line x1="206" y1="291.6" x2="217" y2="291.6" stroke="#111" stroke-width="0.9" />
<text x="0.8" y="325.2" text-anchor="start" fill="#000" style="font-size:11.5px;font-weight:bold;" >F</text>
<rect x="27.1" y="322.0" width="2.4" height="2.4" fill="#111" stroke="none" stroke-width="1" />
<text x="32.2" y="325.9" text-anchor="start" fill="#111" style="font-size:7.4px;" textLength="46.1" lengthAdjust="spacingAndGlyphs">Healthy donor</text>
<rect x="27.1" y="329.8" width="2.4" height="2.4" fill="#111" stroke="none" stroke-width="1" />
<text x="32.2" y="333.2" text-anchor="start" fill="#111" style="font-size:7.4px;" textLength="43.4" lengthAdjust="spacingAndGlyphs">CRC patients</text>
<text x="38.9" y="342.5" text-anchor="start" fill="#111" style="font-size:7.2px;" textLength="31.2" lengthAdjust="spacingAndGlyphs"><tspan font-style="italic">P</tspan> = 0.001</text>
<line x1="28.3" y1="336.1" x2="28.3" y2="398.4" stroke="#555" stroke-width="1.1" />
<line x1="28.3" y1="398.1" x2="78.2" y2="398.1" stroke="#555" stroke-width="1.3" />
<text x="24" y="338.90000000000003" text-anchor="end" fill="#111" style="font-size:7.8px;" >80</text>
<line x1="26.4" y1="336.1" x2="28.3" y2="336.1" stroke="#555" stroke-width="1" />
<text x="24" y="354.7" text-anchor="end" fill="#111" style="font-size:7.8px;" >60</text>
<line x1="26.4" y1="351.9" x2="28.3" y2="351.9" stroke="#555" stroke-width="1" />
<text x="24" y="370.40000000000003" text-anchor="end" fill="#111" style="font-size:7.8px;" >40</text>
<line x1="26.4" y1="367.6" x2="28.3" y2="367.6" stroke="#555" stroke-width="1" />
<text x="24" y="386.0" text-anchor="end" fill="#111" style="font-size:7.8px;" >20</text>
<line x1="26.4" y1="383.2" x2="28.3" y2="383.2" stroke="#555" stroke-width="1" />
<text x="24" y="401.1" text-anchor="end" fill="#111" style="font-size:7.8px;" >0</text>
<line x1="26.4" y1="398.3" x2="28.3" y2="398.3" stroke="#555" stroke-width="1" />
<text transform="translate(10.5,368.2) rotate(-90)" text-anchor="middle" fill="#111" style="font-size:8.4px;" textLength="39.6" lengthAdjust="spacingAndGlyphs">% MDSCs</text>
<path d="M42.6,379.8 L42.6,343.8 L63.7,343.8 L63.7,345.6" fill="none" stroke="#999" stroke-width="0.8" />
<rect x="62.45" y="347.35" width="2.5" height="2.5" fill="#111" stroke="none" stroke-width="1" />
<rect x="57.35" y="357.05" width="2.5" height="2.5" fill="#111" stroke="none" stroke-width="1" />
<rect x="62.45" y="358.45" width="2.5" height="2.5" fill="#111" stroke="none" stroke-width="1" />
<rect x="67.45" y="357.05" width="2.5" height="2.5" fill="#111" stroke="none" stroke-width="1" />
<rect x="62.45" y="371.45" width="2.5" height="2.5" fill="#111" stroke="none" stroke-width="1" />
<line x1="56.1" y1="359.4" x2="70.8" y2="359.4" stroke="#111" stroke-width="0.9" />
<circle cx="42.6" cy="382.8" r="1.25" fill="#111" stroke="none" stroke-width="1"/>
<circle cx="40.2" cy="389" r="1.25" fill="#111" stroke="none" stroke-width="1"/>
<circle cx="45" cy="389" r="1.25" fill="#111" stroke="none" stroke-width="1"/>
<circle cx="42.6" cy="392" r="1.25" fill="#111" stroke="none" stroke-width="1"/>
<circle cx="42.6" cy="394.7" r="1.25" fill="#111" stroke="none" stroke-width="1"/>
<line x1="35.8" y1="389.3" x2="49.7" y2="389.3" stroke="#111" stroke-width="0.9" />
<text x="96.8" y="321.5" text-anchor="start" fill="#000" style="font-size:11.5px;font-weight:bold;" >G</text>
<line x1="124" y1="323.5" x2="130.8" y2="323.5" stroke="#dc7c88" stroke-width="0.8" />
<text x="131.7" y="326.3" text-anchor="start" fill="#111" style="font-size:7.5px;" textLength="47.1" lengthAdjust="spacingAndGlyphs">Healthy donor</text>
<line x1="124" y1="331.5" x2="130.8" y2="331.5" stroke="#78c4d4" stroke-width="0.8" />
<text x="131.7" y="334.0" text-anchor="start" fill="#111" style="font-size:7.5px;" textLength="50" lengthAdjust="spacingAndGlyphs">Cancer patient</text>
<rect x="121.2" y="336.9" width="61.499999999999986" height="51.900000000000034" fill="none" stroke="#8c8c8c" stroke-width="0.8" />
<line x1="119.7" y1="340" x2="121.2" y2="340" stroke="#777" stroke-width="0.5" />
<line x1="119.7" y1="350" x2="121.2" y2="350" stroke="#777" stroke-width="0.5" />
<line x1="119.7" y1="360" x2="121.2" y2="360" stroke="#777" stroke-width="0.5" />
<line x1="119.7" y1="370" x2="121.2" y2="370" stroke="#777" stroke-width="0.5" />
<line x1="119.7" y1="380" x2="121.2" y2="380" stroke="#777" stroke-width="0.5" />
<text transform="translate(114.2,365.3) rotate(-90)" text-anchor="middle" fill="#111" style="font-size:7.6px;" textLength="31.8" lengthAdjust="spacingAndGlyphs">% of Max</text>
<text x="143.3" y="400.4" text-anchor="start" fill="#111" style="font-size:7.8px;" textLength="11.5" lengthAdjust="spacingAndGlyphs">IL6</text>
<path d="M133.5,388.8 C135.5,387 137,372 138.3,355 C138.8,346 139.1,342.7 139.4,342.7 C139.9,343 140.5,350 141.5,362 C142.5,375 143.5,386 146,388.8" fill="none" stroke="#dc7c88" stroke-width="0.8" />
<path d="M145,388.8 C147,387 148,385 150,384 C152,383 153,382 154.8,378 C156.5,366 157.6,345 158.7,342.7 C159.6,344 160.6,356 161.6,368 C162.5,380 163.5,387 166,388.8" fill="none" stroke="#78aad4" stroke-width="0.8" />
<rect x="205.85" y="321.95000000000005" width="2.3" height="2.3" fill="#111" stroke="none" stroke-width="1" />
<text x="210.2" y="325.6" text-anchor="start" fill="#111" style="font-size:7.4px;" textLength="46.1" lengthAdjust="spacingAndGlyphs">Healthy donor</text>
<circle cx="207.1" cy="330.8" r="1.15" fill="#111" stroke="none" stroke-width="1"/>
<text x="210.2" y="333.4" text-anchor="start" fill="#111" style="font-size:7.4px;" textLength="44.7" lengthAdjust="spacingAndGlyphs">CRC patients</text>
<text x="216.6" y="342.6" text-anchor="start" fill="#111" style="font-size:7.2px;" textLength="31.2" lengthAdjust="spacingAndGlyphs"><tspan font-style="italic">P</tspan> = 0.001</text>
<line x1="207.4" y1="336.6" x2="207.4" y2="398.4" stroke="#555" stroke-width="1.1" />
<line x1="207.4" y1="398.2" x2="257.9" y2="398.2" stroke="#555" stroke-width="1.5" />
<text x="202.8" y="339.40000000000003" text-anchor="end" fill="#111" style="font-size:8px;" >8</text>
<line x1="205.5" y1="336.6" x2="207.4" y2="336.6" stroke="#555" stroke-width="1" />
<text x="202.8" y="354.8" text-anchor="end" fill="#111" style="font-size:8px;" >6</text>
<line x1="205.5" y1="352" x2="207.4" y2="352" stroke="#555" stroke-width="1" />
<text x="202.8" y="370.2" text-anchor="end" fill="#111" style="font-size:8px;" >4</text>
<line x1="205.5" y1="367.4" x2="207.4" y2="367.4" stroke="#555" stroke-width="1" />
<text x="202.8" y="385.6" text-anchor="end" fill="#111" style="font-size:8px;" >2</text>
<line x1="205.5" y1="382.8" x2="207.4" y2="382.8" stroke="#555" stroke-width="1" />
<text x="202.8" y="401.0" text-anchor="end" fill="#111" style="font-size:8px;" >0</text>
<line x1="205.5" y1="398.2" x2="207.4" y2="398.2" stroke="#555" stroke-width="1" />
<text transform="translate(193.4,366.5) rotate(-90)" text-anchor="middle" fill="#111" style="font-size:7.8px;" textLength="60.5" lengthAdjust="spacingAndGlyphs">IL6 MFI (x1000)</text>
<path d="M221.6,381 L221.6,344.7 L243.1,344.7 L243.1,347" fill="none" stroke="#999" stroke-width="0.8" />
<rect x="242.3" y="345.2" width="2.4" height="2.4" fill="#111" stroke="none" stroke-width="1" />
<rect x="242.3" y="351.8" width="2.4" height="2.4" fill="#111" stroke="none" stroke-width="1" />
<rect x="242.3" y="359.40000000000003" width="2.4" height="2.4" fill="#111" stroke="none" stroke-width="1" />
<rect x="242.3" y="373.0" width="2.4" height="2.4" fill="#111" stroke="none" stroke-width="1" />
<rect x="242.3" y="379.7" width="2.4" height="2.4" fill="#111" stroke="none" stroke-width="1" />
<line x1="235.7" y1="363.2" x2="251" y2="363.2" stroke="#111" stroke-width="0.9" />
<rect x="214.60000000000002" y="393.40000000000003" width="2.4" height="2.4" fill="#111" stroke="none" stroke-width="1" />
<rect x="214.60000000000002" y="395.2" width="2.4" height="2.4" fill="#111" stroke="none" stroke-width="1" />
<circle cx="219.7" cy="394.4" r="1.2" fill="#111" stroke="none" stroke-width="1"/>
<circle cx="223.5" cy="395.6" r="1.2" fill="#111" stroke="none" stroke-width="1"/>
<circle cx="227.8" cy="395.6" r="1.2" fill="#111" stroke="none" stroke-width="1"/>
<line x1="213.5" y1="395.3" x2="229" y2="395.3" stroke="#111" stroke-width="0.8" />
<text x="294.4" y="276.8" text-anchor="start" fill="#000" style="font-size:12.6px;font-weight:bold;" >H</text>
<circle cx="324.6" cy="274.2" r="1.9" fill="#111" stroke="none" stroke-width="1"/>
<text x="329.8" y="277.1" text-anchor="start" fill="#111" style="font-size:7.3px;" textLength="34.5" lengthAdjust="spacingAndGlyphs">AT3 tumor</text>
<rect x="322.9" y="280" width="3.4" height="3.4" fill="#111" stroke="none" stroke-width="1" />
<text x="329.8" y="284.0" text-anchor="start" fill="#111" style="font-size:7.3px;" textLength="21.2" lengthAdjust="spacingAndGlyphs">J774M</text>
<path d="M322.5,290.8 L326.7,290.8 L324.6,287.0 Z" fill="#111" stroke="none" stroke-width="1" />
<text x="331.5" y="291.0" text-anchor="start" fill="#111" style="font-size:7.3px;" textLength="55.3" lengthAdjust="spacingAndGlyphs">AT3-BM-MDSCs</text>
<path d="M322.5,294.0 L326.7,294.0 L324.6,297.8 Z" fill="#111" stroke="none" stroke-width="1" />
<text x="329.8" y="297.9" text-anchor="start" fill="#111" style="font-size:7.3px;" textLength="71.5" lengthAdjust="spacingAndGlyphs">GM-CSF-BM-MDSCs</text>
<line x1="318" y1="295.4" x2="318" y2="368.9" stroke="#555" stroke-width="1.1" />
<line x1="318" y1="368.3" x2="401.3" y2="368.3" stroke="#555" stroke-width="1.4" />
<text x="313.2" y="298.2" text-anchor="end" fill="#111" style="font-size:8px;" >40</text>
<line x1="316.1" y1="295.4" x2="318" y2="295.4" stroke="#555" stroke-width="1" />
<text x="313.2" y="312.90000000000003" text-anchor="end" fill="#111" style="font-size:8px;" >31</text>
<line x1="316.1" y1="310.1" x2="318" y2="310.1" stroke="#555" stroke-width="1" />
<text x="313.2" y="327.6" text-anchor="end" fill="#111" style="font-size:8px;" >22</text>
<line x1="316.1" y1="324.8" x2="318" y2="324.8" stroke="#555" stroke-width="1" />
<text x="313.2" y="342.3" text-anchor="end" fill="#111" style="font-size:8px;" >13</text>
<line x1="316.1" y1="339.5" x2="318" y2="339.5" stroke="#555" stroke-width="1" />
<text x="313.2" y="357.0" text-anchor="end" fill="#111" style="font-size:8px;" >4</text>
<line x1="316.1" y1="354.2" x2="318" y2="354.2" stroke="#555" stroke-width="1" />
<text x="313.2" y="371.7" text-anchor="end" fill="#111" style="font-size:8px;" >−5</text>
<line x1="316.1" y1="368.9" x2="318" y2="368.9" stroke="#555" stroke-width="1" />
<text transform="translate(299.0,331.1) rotate(-90)" text-anchor="middle" fill="#111" style="font-size:8.2px;" textLength="72" lengthAdjust="spacingAndGlyphs">IL6 protein (pg/mL)</text>
<circle cx="325.5" cy="360.4" r="1.75" fill="#111" stroke="none" stroke-width="1"/>
<circle cx="329.5" cy="360.4" r="1.75" fill="#111" stroke="none" stroke-width="1"/>
<circle cx="333.5" cy="360.4" r="1.75" fill="#111" stroke="none" stroke-width="1"/>
<rect x="341.9" y="344.79999999999995" width="3.2" height="3.2" fill="#111" stroke="none" stroke-width="1" />
<rect x="345.9" y="345.79999999999995" width="3.2" height="3.2" fill="#111" stroke="none" stroke-width="1" />
<rect x="349.9" y="346.59999999999997" width="3.2" height="3.2" fill="#111" stroke="none" stroke-width="1" />
<line x1="342" y1="347.4" x2="353" y2="347.4" stroke="#111" stroke-width="0.8" />
<path d="M362.7,348.5 L366.3,348.5 L364.5,345.3 Z" fill="#111" stroke="none" stroke-width="1" />
<path d="M366.7,348.1 L370.3,348.1 L368.5,344.90000000000003 Z" fill="#111" stroke="none" stroke-width="1" />
<path d="M370.7,349.3 L374.3,349.3 L372.5,346.1 Z" fill="#111" stroke="none" stroke-width="1" />
<line x1="363" y1="347.3" x2="374" y2="347.3" stroke="#111" stroke-width="0.8" />
<path d="M382.7,309.0 L386.3,309.0 L384.5,312.2 Z" fill="#111" stroke="none" stroke-width="1" />
<path d="M386.7,309.7 L390.3,309.7 L388.5,312.9 Z" fill="#111" stroke="none" stroke-width="1" />
<path d="M390.7,310.5 L394.3,310.5 L392.5,313.7 Z" fill="#111" stroke="none" stroke-width="1" />
<line x1="383" y1="309.5" x2="386" y2="309.5" stroke="#111" stroke-width="0.8" />
<line x1="384.5" y1="308.5" x2="384.5" y2="311" stroke="#111" stroke-width="0.8" />
<text x="426.6" y="296.3" text-anchor="start" fill="#000" style="font-size:11.5px;font-weight:bold;" >I</text>
<text x="459.4" y="315.6" text-anchor="middle" fill="#111" style="font-size:8.2px;" >IL6 (ng/mL)</text>
<line x1="434.2" y1="318.6" x2="481.7" y2="318.6" stroke="#aaa" stroke-width="0.8" />
<text x="443.3" y="327.8" text-anchor="middle" fill="#111" style="font-size:8.2px;" >0</text>
<text x="457" y="327.8" text-anchor="middle" fill="#111" style="font-size:8.2px;" >50</text>
<text x="471.6" y="327.8" text-anchor="middle" fill="#111" style="font-size:8.2px;" >100</text>
<rect x="433.2" y="329.3" width="48.8" height="17.3" fill="#d0d0d0"/>
<rect x="433.2" y="348.6" width="48.8" height="15.4" fill="#c6c6c6"/>
<g filter="url(#b07)">
<rect x="452.4" y="336.4" width="11.9" height="2.0" fill="#8c8c8c" stroke="none" stroke-width="1" />
<rect x="467.4" y="335.5" width="12.4" height="2.2" fill="#7e7e7e" stroke="none" stroke-width="1" />
<rect x="433.6" y="354.8" width="14.3" height="3.8" fill="#2e2e2e" stroke="none" stroke-width="1" />
<rect x="449.9" y="354.8" width="13.5" height="3.8" fill="#303030" stroke="none" stroke-width="1" />
<rect x="465.1" y="354.6" width="14.7" height="4.0" fill="#2a2a2a" stroke="none" stroke-width="1" />
</g>
<text x="482.6" y="339.8" text-anchor="start" fill="#111" style="font-size:8.4px;" >-pSTAT3</text>
<text x="482.6" y="359" text-anchor="start" fill="#111" style="font-size:8.4px;" >-STAT3</text>
<text x="1.6" y="424.8" text-anchor="start" fill="#000" style="font-size:11.5px;font-weight:bold;" >J</text>
<line x1="30" y1="424.9" x2="30" y2="488.8" stroke="#555" stroke-width="1.1" />
<line x1="30" y1="488.6" x2="69.2" y2="488.6" stroke="#555" stroke-width="1.4" />
<text x="26.4" y="427.7" text-anchor="end" fill="#111" style="font-size:8px;" >8</text>
<line x1="28.1" y1="424.9" x2="30" y2="424.9" stroke="#555" stroke-width="1" />
<text x="26.4" y="443.7" text-anchor="end" fill="#111" style="font-size:8px;" >6</text>
<line x1="28.1" y1="440.9" x2="30" y2="440.9" stroke="#555" stroke-width="1" />
<text x="26.4" y="459.7" text-anchor="end" fill="#111" style="font-size:8px;" >4</text>
<line x1="28.1" y1="456.9" x2="30" y2="456.9" stroke="#555" stroke-width="1" />
<text x="26.4" y="475.40000000000003" text-anchor="end" fill="#111" style="font-size:8px;" >2</text>
<line x1="28.1" y1="472.6" x2="30" y2="472.6" stroke="#555" stroke-width="1" />
<text x="26.4" y="491.40000000000003" text-anchor="end" fill="#111" style="font-size:8px;" >0</text>
<line x1="28.1" y1="488.6" x2="30" y2="488.6" stroke="#555" stroke-width="1" />
<text transform="translate(16.2,456.2) rotate(-90)" text-anchor="middle" fill="#111" style="font-size:7.8px;" textLength="47.6" lengthAdjust="spacingAndGlyphs">DNMT1 level</text>
<rect x="38.5" y="480.2" width="12.8" height="8.1" fill="#fff" stroke="#111" stroke-width="0.9" />
<line x1="43.8" y1="478.2" x2="43.8" y2="480.2" stroke="#111" stroke-width="0.9" />
<line x1="40.4" y1="478.2" x2="47.4" y2="478.2" stroke="#111" stroke-width="0.9" />
<rect x="52.1" y="437.1" width="13.1" height="51.5" fill="#050505" stroke="none" stroke-width="1" />
<line x1="58.8" y1="429.1" x2="58.8" y2="437.1" stroke="#111" stroke-width="0.9" />
<line x1="54.8" y1="429.1" x2="62.8" y2="429.1" stroke="#111" stroke-width="0.9" />
<line x1="106.1" y1="423.3" x2="106.1" y2="488.4" stroke="#555" stroke-width="1.1" />
<line x1="106.1" y1="488.2" x2="140.1" y2="488.2" stroke="#555" stroke-width="1.4" />
<text x="103.6" y="426.1" text-anchor="end" fill="#111" style="font-size:8px;" >100</text>
<line x1="104.2" y1="423.3" x2="106.1" y2="423.3" stroke="#555" stroke-width="1" />
<text x="103.6" y="439.2" text-anchor="end" fill="#111" style="font-size:8px;" >80</text>
<line x1="104.2" y1="436.4" x2="106.1" y2="436.4" stroke="#555" stroke-width="1" />
<text x="103.6" y="451.90000000000003" text-anchor="end" fill="#111" style="font-size:8px;" >60</text>
<line x1="104.2" y1="449.1" x2="106.1" y2="449.1" stroke="#555" stroke-width="1" />
<text x="103.6" y="464.7" text-anchor="end" fill="#111" style="font-size:8px;" >40</text>
<line x1="104.2" y1="461.9" x2="106.1" y2="461.9" stroke="#555" stroke-width="1" />
<text x="103.6" y="478.0" text-anchor="end" fill="#111" style="font-size:8px;" >20</text>
<line x1="104.2" y1="475.2" x2="106.1" y2="475.2" stroke="#555" stroke-width="1" />
<text x="103.6" y="491.0" text-anchor="end" fill="#111" style="font-size:8px;" >0</text>
<line x1="104.2" y1="488.2" x2="106.1" y2="488.2" stroke="#555" stroke-width="1" />
<text transform="translate(85.7,456.7) rotate(-90)" text-anchor="middle" fill="#111" style="font-size:7.8px;" textLength="52.7" lengthAdjust="spacingAndGlyphs">DNMT3b level</text>
<rect x="108.7" y="416.3" width="8.9" height="3.9" fill="#fff" stroke="#111" stroke-width="0.8" />
<text x="119.7" y="420.6" text-anchor="start" fill="#111" style="font-size:7.6px;" textLength="23.3" lengthAdjust="spacingAndGlyphs">Control</text>
<rect x="108.3" y="425" width="9.7" height="3.8" fill="#111" stroke="none" stroke-width="1" />
<text x="119.7" y="429.1" text-anchor="start" fill="#111" style="font-size:7.6px;" textLength="14.1" lengthAdjust="spacingAndGlyphs">+IL6</text>
<rect x="115.6" y="487.2" width="7" height="1.2" fill="#fff" stroke="#111" stroke-width="0.6" />
<rect x="125.3" y="436.9" width="13.6" height="51.3" fill="#050505" stroke="none" stroke-width="1" />
<line x1="132.1" y1="432.1" x2="132.1" y2="436.9" stroke="#111" stroke-width="0.9" />
<line x1="129" y1="432.1" x2="135.8" y2="432.1" stroke="#111" stroke-width="0.9" />
<text x="292.8" y="394.2" text-anchor="start" fill="#000" style="font-size:11.5px;font-weight:bold;" >K</text>
<line x1="315.1" y1="403.3" x2="315.1" y2="469.5" stroke="#555" stroke-width="1.1" />
<line x1="315.1" y1="469.3" x2="366.1" y2="469.3" stroke="#555" stroke-width="1.4" />
<text x="310.1" y="406.1" text-anchor="end" fill="#111" style="font-size:8px;" >8</text>
<line x1="313.2" y1="403.3" x2="315.1" y2="403.3" stroke="#555" stroke-width="1" />
<text x="310.1" y="422.5" text-anchor="end" fill="#111" style="font-size:8px;" >6</text>
<line x1="313.2" y1="419.7" x2="315.1" y2="419.7" stroke="#555" stroke-width="1" />
<text x="310.1" y="438.90000000000003" text-anchor="end" fill="#111" style="font-size:8px;" >4</text>
<line x1="313.2" y1="436.1" x2="315.1" y2="436.1" stroke="#555" stroke-width="1" />
<text x="310.1" y="455.3" text-anchor="end" fill="#111" style="font-size:8px;" >2</text>
<line x1="313.2" y1="452.5" x2="315.1" y2="452.5" stroke="#555" stroke-width="1" />
<text x="310.1" y="471.7" text-anchor="end" fill="#111" style="font-size:8px;" >0</text>
<line x1="313.2" y1="468.9" x2="315.1" y2="468.9" stroke="#555" stroke-width="1" />
<text transform="translate(298.6,434.0) rotate(-90)" text-anchor="middle" fill="#111" style="font-size:7.8px;" textLength="49.6" lengthAdjust="spacingAndGlyphs">TNFα (pg/mL)</text>
<text x="327.2" y="403.0" text-anchor="start" fill="#111" style="font-size:7.2px;" textLength="30" lengthAdjust="spacingAndGlyphs"><tspan font-style="italic">P</tspan> &lt; 0.001</text>
<path d="M331.8,415 L331.8,406 L355.6,406 L355.6,434.7" fill="none" stroke="#999" stroke-width="0.8" />
<circle cx="331.8" cy="416.3" r="1.15" fill="#111" stroke="none" stroke-width="1"/>
<circle cx="331.8" cy="418.3" r="1.15" fill="#111" stroke="none" stroke-width="1"/>
<circle cx="331.8" cy="420.3" r="1.15" fill="#111" stroke="none" stroke-width="1"/>
<circle cx="331.8" cy="423" r="1.15" fill="#111" stroke="none" stroke-width="1"/>
<circle cx="331.8" cy="425.5" r="1.15" fill="#111" stroke="none" stroke-width="1"/>
<circle cx="331.8" cy="428" r="1.15" fill="#111" stroke="none" stroke-width="1"/>
<circle cx="331.8" cy="430" r="1.15" fill="#111" stroke="none" stroke-width="1"/>
<circle cx="330" cy="424" r="1.1" fill="#111" stroke="none" stroke-width="1"/>
<circle cx="333.6" cy="424" r="1.1" fill="#111" stroke="none" stroke-width="1"/>
<line x1="323.2" y1="422.5" x2="339.4" y2="422.5" stroke="#111" stroke-width="0.9" />
<circle cx="349" cy="443.6" r="1.1" fill="none" stroke="#444" stroke-width="0.55"/>
<circle cx="351.8" cy="444.6" r="1.1" fill="none" stroke="#444" stroke-width="0.55"/>
<circle cx="354.5" cy="443.2" r="1.1" fill="none" stroke="#444" stroke-width="0.55"/>
<circle cx="357" cy="444.4" r="1.1" fill="none" stroke="#444" stroke-width="0.55"/>
<circle cx="359.7" cy="443.4" r="1.1" fill="none" stroke="#444" stroke-width="0.55"/>
<line x1="347.5" y1="443.6" x2="361.3" y2="443.6" stroke="#666" stroke-width="0.5" />
<circle cx="320.4" cy="455.7" r="1.2" fill="#111" stroke="none" stroke-width="1"/>
<text x="323.2" y="457.3" text-anchor="start" fill="#111" style="font-size:7.6px;" textLength="24.3" lengthAdjust="spacingAndGlyphs">Control</text>
<circle cx="320.4" cy="462.7" r="1.1" fill="none" stroke="#444" stroke-width="0.6"/>
<text x="323.2" y="464.6" text-anchor="start" fill="#111" style="font-size:7.6px;" textLength="15.4" lengthAdjust="spacingAndGlyphs">+IL6</text>
<text x="386.4" y="394.8" text-anchor="start" fill="#000" style="font-size:11.5px;font-weight:bold;" >L</text>
<line x1="411.8" y1="397.4" x2="411.8" y2="468.8" stroke="#555" stroke-width="1.1" />
<line x1="411.8" y1="468.5" x2="511" y2="468.5" stroke="#555" stroke-width="1.2" />
<text x="408.6" y="400.40000000000003" text-anchor="end" fill="#111" style="font-size:7.8px;" >0.8</text>
<line x1="409.8" y1="397.6" x2="411.8" y2="397.6" stroke="#555" stroke-width="1" />
<text x="408.6" y="418.2" text-anchor="end" fill="#111" style="font-size:7.8px;" >0.6</text>
<line x1="409.8" y1="415.4" x2="411.8" y2="415.4" stroke="#555" stroke-width="1" />
<text x="408.6" y="435.90000000000003" text-anchor="end" fill="#111" style="font-size:7.8px;" >0.4</text>
<line x1="409.8" y1="433.1" x2="411.8" y2="433.1" stroke="#555" stroke-width="1" />
<text x="408.6" y="453.7" text-anchor="end" fill="#111" style="font-size:7.8px;" >0.2</text>
<line x1="409.8" y1="450.9" x2="411.8" y2="450.9" stroke="#555" stroke-width="1" />
<text x="408.6" y="471.40000000000003" text-anchor="end" fill="#111" style="font-size:7.8px;" >0</text>
<line x1="409.8" y1="468.6" x2="411.8" y2="468.6" stroke="#555" stroke-width="1" />
<text transform="translate(392.0,435.9) rotate(-90)" text-anchor="middle" fill="#111" style="font-size:8.2px;" textLength="65.6" lengthAdjust="spacingAndGlyphs">Cell proliferation</text>
<line x1="429" y1="468.1" x2="429" y2="470" stroke="#555" stroke-width="1" />
<line x1="453.2" y1="468.1" x2="453.2" y2="470" stroke="#555" stroke-width="1" />
<line x1="478.3" y1="468.1" x2="478.3" y2="470" stroke="#555" stroke-width="1" />
<line x1="503.3" y1="468.1" x2="503.3" y2="470" stroke="#555" stroke-width="1" />
<text x="429" y="479.7" text-anchor="middle" fill="#111" style="font-size:8px;" >0</text>
<text x="453.2" y="479.7" text-anchor="middle" fill="#111" style="font-size:8px;" >1</text>
<text x="478.3" y="479.7" text-anchor="middle" fill="#111" style="font-size:8px;" >2</text>
<text x="503.3" y="479.7" text-anchor="middle" fill="#111" style="font-size:8px;" >3</text>
<line x1="426.1" y1="482.3" x2="509.7" y2="482.3" stroke="#8a8a8a" stroke-width="1.8" />
<text x="457.4" y="490.7" text-anchor="start" fill="#111" style="font-size:8.2px;" textLength="19.5" lengthAdjust="spacingAndGlyphs">Days</text>
<path d="M429,466.7 L453.2,464.3 L478.3,448.7 L503.3,432.5" fill="none" stroke="#3050a0" stroke-width="1" />
<path d="M429,466.7 L453.2,462.7 L478.3,437.9 L503.3,408.3" fill="none" stroke="#e04040" stroke-width="1" />
<circle cx="429" cy="466.7" r="1.8" fill="#3050a0" stroke="none" stroke-width="1"/>
<circle cx="453.2" cy="464.3" r="1.8" fill="#3050a0" stroke="none" stroke-width="1"/>
<circle cx="478.3" cy="448.7" r="1.8" fill="#3050a0" stroke="none" stroke-width="1"/>
<circle cx="503.3" cy="432.5" r="1.8" fill="#3050a0" stroke="none" stroke-width="1"/>
<circle cx="453.2" cy="462.7" r="1.8" fill="#e04040" stroke="none" stroke-width="1"/>
<circle cx="478.3" cy="437.9" r="1.8" fill="#e04040" stroke="none" stroke-width="1"/>
<circle cx="503.3" cy="408.3" r="1.8" fill="#e04040" stroke="none" stroke-width="1"/>
<line x1="478.3" y1="434.8" x2="478.3" y2="441" stroke="#e04040" stroke-width="0.8" />
<line x1="476.8" y1="434.8" x2="479.8" y2="434.8" stroke="#e04040" stroke-width="0.8" />
<line x1="503.3" y1="404.5" x2="503.3" y2="412" stroke="#e04040" stroke-width="0.8" />
<line x1="501.8" y1="404.5" x2="504.8" y2="404.5" stroke="#e04040" stroke-width="0.8" />
<line x1="503.3" y1="430.5" x2="503.3" y2="434.5" stroke="#3050a0" stroke-width="0.8" />
<line x1="501.8" y1="430.5" x2="504.8" y2="430.5" stroke="#3050a0" stroke-width="0.8" />
<line x1="417.7" y1="400.2" x2="423" y2="400.2" stroke="#3050a0" stroke-width="1" />
<circle cx="420.4" cy="400.2" r="1.6" fill="#3050a0" stroke="none" stroke-width="1"/>
<text x="425.2" y="403.7" text-anchor="start" fill="#111" style="font-size:7.8px;" >Control</text>
<line x1="417.7" y1="407.7" x2="423" y2="407.7" stroke="#e04040" stroke-width="1" />
<circle cx="420.4" cy="407.7" r="1.6" fill="#e04040" stroke="none" stroke-width="1"/>
<text x="425.2" y="411" text-anchor="start" fill="#111" style="font-size:7.8px;" >+IL6</text>
<line x1="475.8" y1="454.4" x2="508.6" y2="454.4" stroke="#999" stroke-width="0.8" />
<text x="478" y="462.2" text-anchor="start" fill="#111" style="font-size:7.3px;" textLength="30.6" lengthAdjust="spacingAndGlyphs"><tspan font-style="italic">P</tspan> &lt; 0.001</text>
<text x="290.0" y="66.8" text-anchor="end" fill="#777" style="font-size:3.2px;stroke:none;" >0</text>
<text x="290.0" y="56.44" text-anchor="end" fill="#777" style="font-size:3.2px;stroke:none;" >50K</text>
<text x="290.0" y="46.08" text-anchor="end" fill="#777" style="font-size:3.2px;stroke:none;" >100K</text>
<text x="290.0" y="35.72" text-anchor="end" fill="#777" style="font-size:3.2px;stroke:none;" >150K</text>
<text x="290.0" y="25.359999999999996" text-anchor="end" fill="#777" style="font-size:3.2px;stroke:none;" >200K</text>
<text x="290.0" y="14.999999999999996" text-anchor="end" fill="#777" style="font-size:3.2px;stroke:none;" >250K</text>
<text x="292.6" y="69.89999999999999" text-anchor="middle" fill="#777" style="font-size:3.2px;stroke:none;" >0</text>
<text x="304.14000000000004" y="69.89999999999999" text-anchor="middle" fill="#777" style="font-size:3.2px;stroke:none;" >50K</text>
<text x="315.68" y="69.89999999999999" text-anchor="middle" fill="#777" style="font-size:3.2px;stroke:none;" >100K</text>
<text x="327.22" y="69.89999999999999" text-anchor="middle" fill="#777" style="font-size:3.2px;stroke:none;" >150K</text>
<text x="338.76" y="69.89999999999999" text-anchor="middle" fill="#777" style="font-size:3.2px;stroke:none;" >200K</text>
<text x="350.3" y="69.89999999999999" text-anchor="middle" fill="#777" style="font-size:3.2px;stroke:none;" >250K</text>
<text x="376.3" y="66.9" text-anchor="end" fill="#777" style="font-size:3.2px;stroke:none;" >0</text>
<text x="376.3" y="57.120000000000005" text-anchor="end" fill="#777" style="font-size:3.2px;stroke:none;" >50K</text>
<text x="376.3" y="47.34" text-anchor="end" fill="#777" style="font-size:3.2px;stroke:none;" >100K</text>
<text x="376.3" y="37.56" text-anchor="end" fill="#777" style="font-size:3.2px;stroke:none;" >150K</text>
<text x="376.3" y="27.779999999999998" text-anchor="end" fill="#777" style="font-size:3.2px;stroke:none;" >200K</text>
<text x="376.3" y="17.999999999999996" text-anchor="end" fill="#777" style="font-size:3.2px;stroke:none;" >250K</text>
<text x="378.90000000000003" y="70.0" text-anchor="middle" fill="#777" style="font-size:3.2px;stroke:none;" >0</text>
<text x="389.88000000000005" y="70.0" text-anchor="middle" fill="#777" style="font-size:3.2px;stroke:none;" >50K</text>
<text x="400.86" y="70.0" text-anchor="middle" fill="#777" style="font-size:3.2px;stroke:none;" >100K</text>
<text x="411.84000000000003" y="70.0" text-anchor="middle" fill="#777" style="font-size:3.2px;stroke:none;" >150K</text>
<text x="422.82" y="70.0" text-anchor="middle" fill="#777" style="font-size:3.2px;stroke:none;" >200K</text>
<text x="433.8" y="70.0" text-anchor="middle" fill="#777" style="font-size:3.2px;stroke:none;" >250K</text>
<text x="458.4" y="65.8" text-anchor="end" fill="#777" style="font-size:3.2px;stroke:none;" >0</text>
<text x="458.4" y="55.62" text-anchor="end" fill="#777" style="font-size:3.2px;stroke:none;" >50K</text>
<text x="458.4" y="45.44" text-anchor="end" fill="#777" style="font-size:3.2px;stroke:none;" >100K</text>
<text x="458.4" y="35.26" text-anchor="end" fill="#777" style="font-size:3.2px;stroke:none;" >150K</text>
<text x="458.4" y="25.080000000000002" text-anchor="end" fill="#777" style="font-size:3.2px;stroke:none;" >200K</text>
<text x="458.4" y="14.900000000000002" text-anchor="end" fill="#777" style="font-size:3.2px;stroke:none;" >250K</text>
<text x="461.0" y="68.89999999999999" text-anchor="middle" fill="#777" style="font-size:3.2px;stroke:none;" >0</text>
<text x="472.12" y="68.89999999999999" text-anchor="middle" fill="#777" style="font-size:3.2px;stroke:none;" >50K</text>
<text x="483.24" y="68.89999999999999" text-anchor="middle" fill="#777" style="font-size:3.2px;stroke:none;" >100K</text>
<text x="494.35999999999996" y="68.89999999999999" text-anchor="middle" fill="#777" style="font-size:3.2px;stroke:none;" >150K</text>
<text x="505.47999999999996" y="68.89999999999999" text-anchor="middle" fill="#777" style="font-size:3.2px;stroke:none;" >200K</text>
<text x="516.5999999999999" y="68.89999999999999" text-anchor="middle" fill="#777" style="font-size:3.2px;stroke:none;" >250K</text>
<text x="340.3" y="239.2" text-anchor="end" fill="#777" style="font-size:3.2px;stroke:none;" >-10³</text>
<text x="340.3" y="226.375" text-anchor="end" fill="#777" style="font-size:3.2px;stroke:none;" >0</text>
<text x="340.3" y="213.54999999999998" text-anchor="end" fill="#777" style="font-size:3.2px;stroke:none;" >10³</text>
<text x="340.3" y="200.72499999999997" text-anchor="end" fill="#777" style="font-size:3.2px;stroke:none;" >10⁴</text>
<text x="340.3" y="187.89999999999998" text-anchor="end" fill="#777" style="font-size:3.2px;stroke:none;" >10⁵</text>
<text x="342.90000000000003" y="242.3" text-anchor="middle" fill="#777" style="font-size:3.2px;stroke:none;" >0</text>
<text x="354.48" y="242.3" text-anchor="middle" fill="#777" style="font-size:3.2px;stroke:none;" >50K</text>
<text x="366.06" y="242.3" text-anchor="middle" fill="#777" style="font-size:3.2px;stroke:none;" >100K</text>
<text x="377.64000000000004" y="242.3" text-anchor="middle" fill="#777" style="font-size:3.2px;stroke:none;" >150K</text>
<text x="389.22" y="242.3" text-anchor="middle" fill="#777" style="font-size:3.2px;stroke:none;" >200K</text>
<text x="400.8" y="242.3" text-anchor="middle" fill="#777" style="font-size:3.2px;stroke:none;" >250K</text>
<text x="448.0" y="239.2" text-anchor="end" fill="#777" style="font-size:3.2px;stroke:none;" >-10³</text>
<text x="448.0" y="226.25" text-anchor="end" fill="#777" style="font-size:3.2px;stroke:none;" >0</text>
<text x="448.0" y="213.29999999999998" text-anchor="end" fill="#777" style="font-size:3.2px;stroke:none;" >10³</text>
<text x="448.0" y="200.34999999999997" text-anchor="end" fill="#777" style="font-size:3.2px;stroke:none;" >10⁴</text>
<text x="448.0" y="187.39999999999998" text-anchor="end" fill="#777" style="font-size:3.2px;stroke:none;" >10⁵</text>
<text x="450.6" y="242.3" text-anchor="middle" fill="#777" style="font-size:3.2px;stroke:none;" >0</text>
<text x="461.54" y="242.3" text-anchor="middle" fill="#777" style="font-size:3.2px;stroke:none;" >50K</text>
<text x="472.48" y="242.3" text-anchor="middle" fill="#777" style="font-size:3.2px;stroke:none;" >100K</text>
<text x="483.42" y="242.3" text-anchor="middle" fill="#777" style="font-size:3.2px;stroke:none;" >150K</text>
<text x="494.36" y="242.3" text-anchor="middle" fill="#777" style="font-size:3.2px;stroke:none;" >200K</text>
<text x="505.3" y="242.3" text-anchor="middle" fill="#777" style="font-size:3.2px;stroke:none;" >250K</text>
<text x="341.0" y="153.39999999999998" text-anchor="end" fill="#777" style="font-size:3.2px;stroke:none;" >0</text>
<text x="341.0" y="142.76666666666665" text-anchor="end" fill="#777" style="font-size:3.2px;stroke:none;" >10³</text>
<text x="341.0" y="132.13333333333333" text-anchor="end" fill="#777" style="font-size:3.2px;stroke:none;" >10⁴</text>
<text x="341.0" y="121.5" text-anchor="end" fill="#777" style="font-size:3.2px;stroke:none;" >10⁵</text>
<text x="354.8" y="168.0" text-anchor="middle" fill="#777" style="font-size:3.2px;stroke:none;" >0</text>
<text x="368.4666666666667" y="168.0" text-anchor="middle" fill="#777" style="font-size:3.2px;stroke:none;" >10³</text>
<text x="382.1333333333333" y="168.0" text-anchor="middle" fill="#777" style="font-size:3.2px;stroke:none;" >10⁴</text>
<text x="395.8" y="168.0" text-anchor="middle" fill="#777" style="font-size:3.2px;stroke:none;" >10⁵</text>
<text x="448.59999999999997" y="152.2" text-anchor="end" fill="#777" style="font-size:3.2px;stroke:none;" >0</text>
<text x="448.59999999999997" y="141.2" text-anchor="end" fill="#777" style="font-size:3.2px;stroke:none;" >10³</text>
<text x="448.59999999999997" y="130.2" text-anchor="end" fill="#777" style="font-size:3.2px;stroke:none;" >10⁴</text>
<text x="448.59999999999997" y="119.2" text-anchor="end" fill="#777" style="font-size:3.2px;stroke:none;" >10⁵</text>
<text x="462.4" y="166.8" text-anchor="middle" fill="#777" style="font-size:3.2px;stroke:none;" >0</text>
<text x="474.93333333333334" y="166.8" text-anchor="middle" fill="#777" style="font-size:3.2px;stroke:none;" >10³</text>
<text x="487.46666666666664" y="166.8" text-anchor="middle" fill="#777" style="font-size:3.2px;stroke:none;" >10⁴</text>
<text x="500.0" y="166.8" text-anchor="middle" fill="#777" style="font-size:3.2px;stroke:none;" >10⁵</text>
<text x="120" y="291.5" text-anchor="middle" fill="#777" style="font-size:3.2px;stroke:none;" >0</text>
<text x="132" y="291.5" text-anchor="middle" fill="#777" style="font-size:3.2px;stroke:none;" >10²</text>
<text x="143" y="291.5" text-anchor="middle" fill="#777" style="font-size:3.2px;stroke:none;" >10³</text>
<text x="155" y="291.5" text-anchor="middle" fill="#777" style="font-size:3.2px;stroke:none;" >10⁴</text>
<text x="168" y="291.5" text-anchor="middle" fill="#777" style="font-size:3.2px;stroke:none;" >10⁵</text>
<text x="128" y="393" text-anchor="middle" fill="#777" style="font-size:3.2px;stroke:none;" >0</text>
<text x="140" y="393" text-anchor="middle" fill="#777" style="font-size:3.2px;stroke:none;" >10²</text>
<text x="152" y="393" text-anchor="middle" fill="#777" style="font-size:3.2px;stroke:none;" >10³</text>
<text x="164" y="393" text-anchor="middle" fill="#777" style="font-size:3.2px;stroke:none;" >10⁴</text>
<text x="177" y="393" text-anchor="middle" fill="#777" style="font-size:3.2px;stroke:none;" >10⁵</text>
<rect x="118.5" y="286.9" width="3" height="1.2" fill="#222" stroke="none" stroke-width="1" />
<rect x="127" y="388.3" width="3" height="1.2" fill="#222" stroke="none" stroke-width="1" />
<ellipse cx="37.1" cy="68.6" rx="1.5" ry="0.9" fill="#111"/>
<ellipse cx="121.1" cy="68.6" rx="1.5" ry="0.9" fill="#111"/>
<ellipse cx="202.1" cy="68.6" rx="1.4" ry="0.7" fill="#333"/>
<ellipse cx="341.6" cy="156.7" rx="0.8" ry="1.2" fill="#111"/>
<ellipse cx="450.6" cy="157.5" rx="0.8" ry="1.2" fill="#222"/>
<ellipse cx="342.3" cy="221.5" rx="0.8" ry="1.2" fill="#111"/>
<ellipse cx="450.3" cy="222" rx="0.8" ry="1.2" fill="#111"/>
<ellipse cx="118.5" cy="173.8" rx="1.4" ry="0.7" fill="#222"/>
<ellipse cx="201.3" cy="174.6" rx="1.4" ry="0.7" fill="#222"/>
</svg>
</body></html>
